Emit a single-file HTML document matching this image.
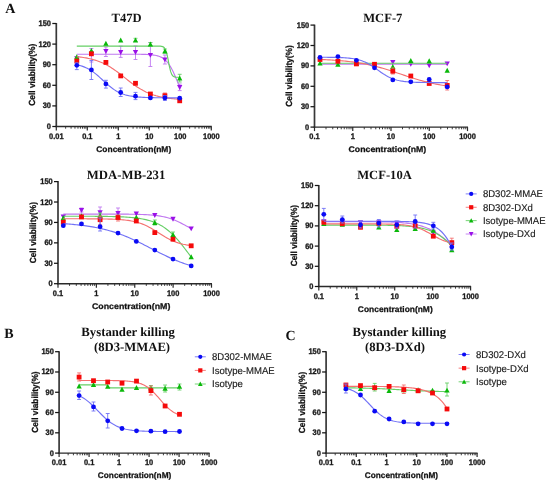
<!DOCTYPE html>
<html><head><meta charset="utf-8"><style>
html,body{margin:0;padding:0;background:#fff;}
svg{display:block;will-change:transform;text-rendering:geometricPrecision}
.tk{font-family:"Liberation Sans",sans-serif;font-weight:bold;fill:#1a1a1a;stroke:#1a1a1a;stroke-width:0.35px}
.al{font-family:"Liberation Sans",sans-serif;font-weight:bold;fill:#111;stroke:#111;stroke-width:0.25px}
.ti{font-family:"Liberation Serif",serif;font-weight:bold;fill:#111}
.lg{font-family:"Liberation Sans",sans-serif;font-size:9.8px;fill:#1a1a1a;stroke:#1a1a1a;stroke-width:0.15px}
</style></head><body>
<svg width="550" height="483" viewBox="0 0 550 483">
<text x="5.30" y="12.90" text-anchor="start" class="ti" style="font-size:14px">A</text>
<text x="126.60" y="22.40" text-anchor="middle" class="ti" style="font-size:12.6px">T47D</text>
<path d="M56.30 23.00V127.10" stroke="#383838" stroke-width="1.7" fill="none"/>
<path d="M55.60 126.50H211.80" stroke="#2a2a2a" stroke-width="1.35" fill="none"/>
<path d="M52.30 126.50H56.30" stroke="#151515" stroke-width="1.25"/>
<text transform="translate(51.00 129.00) scale(0.93 1)" text-anchor="end" class="tk" style="font-size:8.0px">0</text>
<path d="M52.30 105.90H56.30" stroke="#151515" stroke-width="1.25"/>
<text transform="translate(51.00 108.40) scale(0.93 1)" text-anchor="end" class="tk" style="font-size:8.0px">30</text>
<path d="M52.30 85.30H56.30" stroke="#151515" stroke-width="1.25"/>
<text transform="translate(51.00 87.80) scale(0.93 1)" text-anchor="end" class="tk" style="font-size:8.0px">60</text>
<path d="M52.30 64.70H56.30" stroke="#151515" stroke-width="1.25"/>
<text transform="translate(51.00 67.20) scale(0.93 1)" text-anchor="end" class="tk" style="font-size:8.0px">90</text>
<path d="M52.30 44.10H56.30" stroke="#151515" stroke-width="1.25"/>
<text transform="translate(51.00 46.60) scale(0.93 1)" text-anchor="end" class="tk" style="font-size:8.0px">120</text>
<path d="M52.30 23.50H56.30" stroke="#151515" stroke-width="1.25"/>
<text transform="translate(51.00 26.00) scale(0.93 1)" text-anchor="end" class="tk" style="font-size:8.0px">150</text>
<path d="M56.30 126.50V130.50" stroke="#2a2a2a" stroke-width="1.2"/>
<text transform="translate(56.30 138.80) scale(0.93 1)" text-anchor="middle" class="tk" style="font-size:8.0px">0.01</text>
<path d="M65.63 126.50V128.70" stroke="#2a2a2a" stroke-width="0.9"/>
<path d="M71.09 126.50V128.70" stroke="#2a2a2a" stroke-width="0.9"/>
<path d="M74.96 126.50V128.70" stroke="#2a2a2a" stroke-width="0.9"/>
<path d="M77.97 126.50V128.70" stroke="#2a2a2a" stroke-width="0.9"/>
<path d="M80.42 126.50V128.70" stroke="#2a2a2a" stroke-width="0.9"/>
<path d="M82.50 126.50V128.70" stroke="#2a2a2a" stroke-width="0.9"/>
<path d="M84.30 126.50V128.70" stroke="#2a2a2a" stroke-width="0.9"/>
<path d="M85.88 126.50V128.70" stroke="#2a2a2a" stroke-width="0.9"/>
<path d="M87.30 126.50V130.50" stroke="#2a2a2a" stroke-width="1.2"/>
<text transform="translate(87.30 138.80) scale(0.93 1)" text-anchor="middle" class="tk" style="font-size:8.0px">0.1</text>
<path d="M96.63 126.50V128.70" stroke="#2a2a2a" stroke-width="0.9"/>
<path d="M102.09 126.50V128.70" stroke="#2a2a2a" stroke-width="0.9"/>
<path d="M105.96 126.50V128.70" stroke="#2a2a2a" stroke-width="0.9"/>
<path d="M108.97 126.50V128.70" stroke="#2a2a2a" stroke-width="0.9"/>
<path d="M111.42 126.50V128.70" stroke="#2a2a2a" stroke-width="0.9"/>
<path d="M113.50 126.50V128.70" stroke="#2a2a2a" stroke-width="0.9"/>
<path d="M115.30 126.50V128.70" stroke="#2a2a2a" stroke-width="0.9"/>
<path d="M116.88 126.50V128.70" stroke="#2a2a2a" stroke-width="0.9"/>
<path d="M118.30 126.50V130.50" stroke="#2a2a2a" stroke-width="1.2"/>
<text transform="translate(118.30 138.80) scale(0.93 1)" text-anchor="middle" class="tk" style="font-size:8.0px">1</text>
<path d="M127.63 126.50V128.70" stroke="#2a2a2a" stroke-width="0.9"/>
<path d="M133.09 126.50V128.70" stroke="#2a2a2a" stroke-width="0.9"/>
<path d="M136.96 126.50V128.70" stroke="#2a2a2a" stroke-width="0.9"/>
<path d="M139.97 126.50V128.70" stroke="#2a2a2a" stroke-width="0.9"/>
<path d="M142.42 126.50V128.70" stroke="#2a2a2a" stroke-width="0.9"/>
<path d="M144.50 126.50V128.70" stroke="#2a2a2a" stroke-width="0.9"/>
<path d="M146.30 126.50V128.70" stroke="#2a2a2a" stroke-width="0.9"/>
<path d="M147.88 126.50V128.70" stroke="#2a2a2a" stroke-width="0.9"/>
<path d="M149.30 126.50V130.50" stroke="#2a2a2a" stroke-width="1.2"/>
<text transform="translate(149.30 138.80) scale(0.93 1)" text-anchor="middle" class="tk" style="font-size:8.0px">10</text>
<path d="M158.63 126.50V128.70" stroke="#2a2a2a" stroke-width="0.9"/>
<path d="M164.09 126.50V128.70" stroke="#2a2a2a" stroke-width="0.9"/>
<path d="M167.96 126.50V128.70" stroke="#2a2a2a" stroke-width="0.9"/>
<path d="M170.97 126.50V128.70" stroke="#2a2a2a" stroke-width="0.9"/>
<path d="M173.42 126.50V128.70" stroke="#2a2a2a" stroke-width="0.9"/>
<path d="M175.50 126.50V128.70" stroke="#2a2a2a" stroke-width="0.9"/>
<path d="M177.30 126.50V128.70" stroke="#2a2a2a" stroke-width="0.9"/>
<path d="M178.88 126.50V128.70" stroke="#2a2a2a" stroke-width="0.9"/>
<path d="M180.30 126.50V130.50" stroke="#2a2a2a" stroke-width="1.2"/>
<text transform="translate(180.30 138.80) scale(0.93 1)" text-anchor="middle" class="tk" style="font-size:8.0px">100</text>
<path d="M189.63 126.50V128.70" stroke="#2a2a2a" stroke-width="0.9"/>
<path d="M195.09 126.50V128.70" stroke="#2a2a2a" stroke-width="0.9"/>
<path d="M198.96 126.50V128.70" stroke="#2a2a2a" stroke-width="0.9"/>
<path d="M201.97 126.50V128.70" stroke="#2a2a2a" stroke-width="0.9"/>
<path d="M204.42 126.50V128.70" stroke="#2a2a2a" stroke-width="0.9"/>
<path d="M206.50 126.50V128.70" stroke="#2a2a2a" stroke-width="0.9"/>
<path d="M208.30 126.50V128.70" stroke="#2a2a2a" stroke-width="0.9"/>
<path d="M209.88 126.50V128.70" stroke="#2a2a2a" stroke-width="0.9"/>
<path d="M211.30 126.50V130.50" stroke="#2a2a2a" stroke-width="1.2"/>
<text transform="translate(211.30 138.80) scale(0.93 1)" text-anchor="middle" class="tk" style="font-size:8.0px">1000</text>
<text x="96.25" y="151.60" textLength="74.95" lengthAdjust="spacingAndGlyphs" class="al" style="font-size:8.2px">Concentration(nM)</text>
<g transform="translate(34.90 105.50) scale(1.07 1) rotate(-90)"><text x="-0.35" y="0" textLength="62.25" lengthAdjust="spacingAndGlyphs" class="al" style="font-size:8.3px">Cell viability(%)</text></g>
<path d="M76.80 54.22 L78.10 54.22 L79.41 54.22 L80.71 54.22 L82.01 54.22 L83.31 54.22 L84.62 54.22 L85.92 54.22 L87.22 54.22 L88.52 54.22 L89.83 54.22 L91.13 54.22 L92.43 54.22 L93.73 54.22 L95.04 54.22 L96.34 54.22 L97.64 54.22 L98.94 54.22 L100.25 54.22 L101.55 54.22 L102.85 54.22 L104.15 54.22 L105.46 54.22 L106.76 54.22 L108.06 54.22 L109.36 54.22 L110.67 54.22 L111.97 54.22 L113.27 54.22 L114.57 54.22 L115.88 54.22 L117.18 54.22 L118.48 54.22 L119.78 54.22 L121.09 54.22 L122.39 54.22 L123.69 54.22 L124.99 54.22 L126.30 54.22 L127.60 54.22 L128.90 54.23 L130.20 54.23 L131.51 54.23 L132.81 54.24 L134.11 54.24 L135.41 54.25 L136.72 54.26 L138.02 54.27 L139.32 54.29 L140.62 54.30 L141.93 54.33 L143.23 54.35 L144.53 54.39 L145.83 54.43 L147.14 54.49 L148.44 54.56 L149.74 54.64 L151.04 54.75 L152.35 54.89 L153.65 55.06 L154.95 55.27 L156.25 55.53 L157.56 55.86 L158.86 56.26 L160.16 56.76 L161.46 57.37 L162.77 58.12 L164.07 59.03 L165.37 60.13 L166.67 61.44 L167.98 62.99 L169.28 64.80 L170.58 66.88 L171.88 69.24 L173.19 71.85 L174.49 74.68 L175.79 77.68 L177.09 80.79 L178.40 83.93 L179.70 87.01" stroke="#c078f0" stroke-width="1.15" fill="none"/>
<path d="M91.40 48.50V62.00M89.45 48.50H93.35M89.45 62.00H93.35" stroke="#c078f0" stroke-width="0.9" fill="none"/>
<path d="M105.90 47.00V56.50M103.95 47.00H107.85M103.95 56.50H107.85" stroke="#c078f0" stroke-width="0.9" fill="none"/>
<path d="M120.70 46.20V57.40M118.75 46.20H122.65M118.75 57.40H122.65" stroke="#c078f0" stroke-width="0.9" fill="none"/>
<path d="M135.50 46.00V59.50M133.55 46.00H137.45M133.55 59.50H137.45" stroke="#c078f0" stroke-width="0.9" fill="none"/>
<path d="M150.40 42.50V66.50M148.45 42.50H152.35M148.45 66.50H152.35" stroke="#c078f0" stroke-width="0.9" fill="none"/>
<path d="M164.90 55.00V64.00M162.95 55.00H166.85M162.95 64.00H166.85" stroke="#c078f0" stroke-width="0.9" fill="none"/>
<path d="M179.70 84.00V90.60M177.75 84.00H181.65M177.75 90.60H181.65" stroke="#c078f0" stroke-width="0.9" fill="none"/>
<polygon points="76.80,61.26 79.44,56.29 74.16,56.29" fill="#9a10e8"/>
<polygon points="91.40,56.76 94.04,51.79 88.76,51.79" fill="#9a10e8"/>
<polygon points="105.90,53.96 108.54,48.99 103.26,48.99" fill="#9a10e8"/>
<polygon points="120.70,54.96 123.34,49.99 118.06,49.99" fill="#9a10e8"/>
<polygon points="135.50,54.96 138.14,49.99 132.86,49.99" fill="#9a10e8"/>
<polygon points="150.40,57.86 153.04,52.89 147.76,52.89" fill="#9a10e8"/>
<polygon points="164.90,62.36 167.54,57.39 162.26,57.39" fill="#9a10e8"/>
<polygon points="179.70,90.06 182.34,85.09 177.06,85.09" fill="#9a10e8"/>
<path d="M76.80 46.10 L78.10 46.10 L79.41 46.10 L80.71 46.10 L82.01 46.10 L83.31 46.10 L84.62 46.10 L85.92 46.10 L87.22 46.10 L88.52 46.10 L89.83 46.10 L91.13 46.10 L92.43 46.10 L93.73 46.10 L95.04 46.10 L96.34 46.10 L97.64 46.10 L98.94 46.10 L100.25 46.10 L101.55 46.10 L102.85 46.10 L104.15 46.10 L105.46 46.10 L106.76 46.10 L108.06 46.10 L109.36 46.10 L110.67 46.10 L111.97 46.10 L113.27 46.10 L114.57 46.10 L115.88 46.10 L117.18 46.10 L118.48 46.10 L119.78 46.10 L121.09 46.10 L122.39 46.10 L123.69 46.10 L124.99 46.10 L126.30 46.10 L127.60 46.10 L128.90 46.10 L130.20 46.10 L131.51 46.10 L132.81 46.10 L134.11 46.10 L135.41 46.10 L136.72 46.10 L138.02 46.10 L139.32 46.10 L140.62 46.10 L141.93 46.10 L143.23 46.10 L144.53 46.10 L145.83 46.10 L147.14 46.10 L148.44 46.10 L149.74 46.10 L151.04 46.10 L152.35 46.10 L153.65 46.10 L154.95 46.10 L156.25 46.11 L157.56 46.11 L158.86 46.14 L160.16 46.19 L161.46 46.33 L162.77 46.65 L164.07 47.44 L165.37 49.24 L166.67 52.90 L167.98 58.88 L169.28 65.85 L170.58 71.41 L171.88 74.63 L173.19 76.17 L174.49 76.84 L175.79 77.11 L177.09 77.22 L178.40 77.27 L179.70 77.29" stroke="#66cf66" stroke-width="1.15" fill="none"/>
<path d="M135.50 38.30V41.50M133.55 38.30H137.45M133.55 41.50H137.45" stroke="#66cf66" stroke-width="0.9" fill="none"/>
<path d="M150.40 42.50V46.00M148.45 42.50H152.35M148.45 46.00H152.35" stroke="#66cf66" stroke-width="0.9" fill="none"/>
<path d="M164.90 49.00V53.00M162.95 49.00H166.85M162.95 53.00H166.85" stroke="#66cf66" stroke-width="0.9" fill="none"/>
<path d="M179.70 74.30V82.00M177.75 74.30H181.65M177.75 82.00H181.65" stroke="#66cf66" stroke-width="0.9" fill="none"/>
<polygon points="76.80,54.24 79.44,59.21 74.16,59.21" fill="#0ab80a"/>
<polygon points="91.40,48.04 94.04,53.01 88.76,53.01" fill="#0ab80a"/>
<polygon points="105.90,40.84 108.54,45.81 103.26,45.81" fill="#0ab80a"/>
<polygon points="120.70,37.54 123.34,42.51 118.06,42.51" fill="#0ab80a"/>
<polygon points="135.50,37.54 138.14,42.51 132.86,42.51" fill="#0ab80a"/>
<polygon points="150.40,41.44 153.04,46.41 147.76,46.41" fill="#0ab80a"/>
<polygon points="164.90,48.44 167.54,53.41 162.26,53.41" fill="#0ab80a"/>
<polygon points="179.70,75.54 182.34,80.51 177.06,80.51" fill="#0ab80a"/>
<path d="M76.80 56.68 L78.10 56.82 L79.41 56.97 L80.71 57.13 L82.01 57.30 L83.31 57.49 L84.62 57.70 L85.92 57.93 L87.22 58.17 L88.52 58.44 L89.83 58.72 L91.13 59.03 L92.43 59.37 L93.73 59.73 L95.04 60.11 L96.34 60.53 L97.64 60.98 L98.94 61.46 L100.25 61.97 L101.55 62.51 L102.85 63.09 L104.15 63.71 L105.46 64.36 L106.76 65.05 L108.06 65.78 L109.36 66.54 L110.67 67.34 L111.97 68.17 L113.27 69.04 L114.57 69.93 L115.88 70.86 L117.18 71.81 L118.48 72.79 L119.78 73.78 L121.09 74.79 L122.39 75.81 L123.69 76.85 L124.99 77.88 L126.30 78.91 L127.60 79.94 L128.90 80.96 L130.20 81.97 L131.51 82.96 L132.81 83.92 L134.11 84.87 L135.41 85.78 L136.72 86.67 L138.02 87.52 L139.32 88.34 L140.62 89.12 L141.93 89.87 L143.23 90.59 L144.53 91.26 L145.83 91.90 L147.14 92.50 L148.44 93.07 L149.74 93.60 L151.04 94.10 L152.35 94.57 L153.65 95.01 L154.95 95.41 L156.25 95.79 L157.56 96.14 L158.86 96.46 L160.16 96.76 L161.46 97.04 L162.77 97.30 L164.07 97.54 L165.37 97.75 L166.67 97.96 L167.98 98.14 L169.28 98.31 L170.58 98.47 L171.88 98.61 L173.19 98.74 L174.49 98.87 L175.79 98.98 L177.09 99.08 L178.40 99.17 L179.70 99.26" stroke="#f57070" stroke-width="1.15" fill="none"/>
<path d="M164.90 93.00V98.50M162.95 93.00H166.85M162.95 98.50H166.85" stroke="#f57070" stroke-width="0.9" fill="none"/>
<rect x="74.40" y="58.60" width="4.80" height="4.80" fill="#f50a0a"/>
<rect x="89.00" y="51.40" width="4.80" height="4.80" fill="#f50a0a"/>
<rect x="103.50" y="60.00" width="4.80" height="4.80" fill="#f50a0a"/>
<rect x="118.30" y="73.50" width="4.80" height="4.80" fill="#f50a0a"/>
<rect x="133.10" y="80.90" width="4.80" height="4.80" fill="#f50a0a"/>
<rect x="148.00" y="91.60" width="4.80" height="4.80" fill="#f50a0a"/>
<rect x="162.50" y="93.30" width="4.80" height="4.80" fill="#f50a0a"/>
<rect x="177.30" y="98.40" width="4.80" height="4.80" fill="#f50a0a"/>
<path d="M76.80 64.71 L78.10 65.00 L79.41 65.33 L80.71 65.71 L82.01 66.12 L83.31 66.59 L84.62 67.10 L85.92 67.67 L87.22 68.30 L88.52 68.99 L89.83 69.74 L91.13 70.56 L92.43 71.43 L93.73 72.37 L95.04 73.37 L96.34 74.42 L97.64 75.52 L98.94 76.66 L100.25 77.83 L101.55 79.02 L102.85 80.22 L104.15 81.42 L105.46 82.62 L106.76 83.79 L108.06 84.92 L109.36 86.02 L110.67 87.07 L111.97 88.06 L113.27 89.00 L114.57 89.87 L115.88 90.68 L117.18 91.43 L118.48 92.12 L119.78 92.74 L121.09 93.31 L122.39 93.82 L123.69 94.29 L124.99 94.70 L126.30 95.07 L127.60 95.40 L128.90 95.69 L130.20 95.96 L131.51 96.19 L132.81 96.39 L134.11 96.57 L135.41 96.73 L136.72 96.87 L138.02 96.99 L139.32 97.10 L140.62 97.19 L141.93 97.28 L143.23 97.35 L144.53 97.41 L145.83 97.47 L147.14 97.52 L148.44 97.56 L149.74 97.60 L151.04 97.63 L152.35 97.66 L153.65 97.68 L154.95 97.70 L156.25 97.72 L157.56 97.74 L158.86 97.75 L160.16 97.77 L161.46 97.78 L162.77 97.79 L164.07 97.80 L165.37 97.80 L166.67 97.81 L167.98 97.82 L169.28 97.82 L170.58 97.82 L171.88 97.83 L173.19 97.83 L174.49 97.83 L175.79 97.84 L177.09 97.84 L178.40 97.84 L179.70 97.84" stroke="#7272f6" stroke-width="1.15" fill="none"/>
<path d="M76.80 62.80V69.60M74.85 62.80H78.75M74.85 69.60H78.75" stroke="#7272f6" stroke-width="0.9" fill="none"/>
<path d="M91.40 60.50V79.50M89.45 60.50H93.35M89.45 79.50H93.35" stroke="#7272f6" stroke-width="0.9" fill="none"/>
<path d="M105.90 80.30V88.10M103.95 80.30H107.85M103.95 88.10H107.85" stroke="#7272f6" stroke-width="0.9" fill="none"/>
<path d="M120.70 88.00V96.50M118.75 88.00H122.65M118.75 96.50H122.65" stroke="#7272f6" stroke-width="0.9" fill="none"/>
<path d="M135.50 92.40V99.60M133.55 92.40H137.45M133.55 99.60H137.45" stroke="#7272f6" stroke-width="0.9" fill="none"/>
<path d="M164.90 95.50V100.50M162.95 95.50H166.85M162.95 100.50H166.85" stroke="#7272f6" stroke-width="0.9" fill="none"/>
<circle cx="76.80" cy="65.30" r="2.40" fill="#0a0af5"/>
<circle cx="91.40" cy="69.90" r="2.40" fill="#0a0af5"/>
<circle cx="105.90" cy="83.90" r="2.40" fill="#0a0af5"/>
<circle cx="120.70" cy="92.50" r="2.40" fill="#0a0af5"/>
<circle cx="135.50" cy="96.20" r="2.40" fill="#0a0af5"/>
<circle cx="150.40" cy="97.90" r="2.40" fill="#0a0af5"/>
<circle cx="164.90" cy="97.90" r="2.40" fill="#0a0af5"/>
<circle cx="179.70" cy="98.20" r="2.40" fill="#0a0af5"/>
<text x="382.80" y="22.20" text-anchor="middle" class="ti" style="font-size:12.6px">MCF-7</text>
<path d="M314.50 24.60V127.70" stroke="#383838" stroke-width="1.7" fill="none"/>
<path d="M313.80 127.10H468.00" stroke="#2a2a2a" stroke-width="1.35" fill="none"/>
<path d="M310.50 127.10H314.50" stroke="#151515" stroke-width="1.25"/>
<text transform="translate(309.20 129.60) scale(0.93 1)" text-anchor="end" class="tk" style="font-size:8.0px">0</text>
<path d="M310.50 106.70H314.50" stroke="#151515" stroke-width="1.25"/>
<text transform="translate(309.20 109.20) scale(0.93 1)" text-anchor="end" class="tk" style="font-size:8.0px">30</text>
<path d="M310.50 86.30H314.50" stroke="#151515" stroke-width="1.25"/>
<text transform="translate(309.20 88.80) scale(0.93 1)" text-anchor="end" class="tk" style="font-size:8.0px">60</text>
<path d="M310.50 65.90H314.50" stroke="#151515" stroke-width="1.25"/>
<text transform="translate(309.20 68.40) scale(0.93 1)" text-anchor="end" class="tk" style="font-size:8.0px">90</text>
<path d="M310.50 45.50H314.50" stroke="#151515" stroke-width="1.25"/>
<text transform="translate(309.20 48.00) scale(0.93 1)" text-anchor="end" class="tk" style="font-size:8.0px">120</text>
<path d="M310.50 25.10H314.50" stroke="#151515" stroke-width="1.25"/>
<text transform="translate(309.20 27.60) scale(0.93 1)" text-anchor="end" class="tk" style="font-size:8.0px">150</text>
<path d="M314.50 127.10V131.10" stroke="#2a2a2a" stroke-width="1.2"/>
<text transform="translate(314.50 139.40) scale(0.93 1)" text-anchor="middle" class="tk" style="font-size:8.0px">0.1</text>
<path d="M326.01 127.10V129.30" stroke="#2a2a2a" stroke-width="0.9"/>
<path d="M332.75 127.10V129.30" stroke="#2a2a2a" stroke-width="0.9"/>
<path d="M337.53 127.10V129.30" stroke="#2a2a2a" stroke-width="0.9"/>
<path d="M341.24 127.10V129.30" stroke="#2a2a2a" stroke-width="0.9"/>
<path d="M344.26 127.10V129.30" stroke="#2a2a2a" stroke-width="0.9"/>
<path d="M346.83 127.10V129.30" stroke="#2a2a2a" stroke-width="0.9"/>
<path d="M349.04 127.10V129.30" stroke="#2a2a2a" stroke-width="0.9"/>
<path d="M351.00 127.10V129.30" stroke="#2a2a2a" stroke-width="0.9"/>
<path d="M352.75 127.10V131.10" stroke="#2a2a2a" stroke-width="1.2"/>
<text transform="translate(352.75 139.40) scale(0.93 1)" text-anchor="middle" class="tk" style="font-size:8.0px">1</text>
<path d="M364.26 127.10V129.30" stroke="#2a2a2a" stroke-width="0.9"/>
<path d="M371.00 127.10V129.30" stroke="#2a2a2a" stroke-width="0.9"/>
<path d="M375.78 127.10V129.30" stroke="#2a2a2a" stroke-width="0.9"/>
<path d="M379.49 127.10V129.30" stroke="#2a2a2a" stroke-width="0.9"/>
<path d="M382.51 127.10V129.30" stroke="#2a2a2a" stroke-width="0.9"/>
<path d="M385.08 127.10V129.30" stroke="#2a2a2a" stroke-width="0.9"/>
<path d="M387.29 127.10V129.30" stroke="#2a2a2a" stroke-width="0.9"/>
<path d="M389.25 127.10V129.30" stroke="#2a2a2a" stroke-width="0.9"/>
<path d="M391.00 127.10V131.10" stroke="#2a2a2a" stroke-width="1.2"/>
<text transform="translate(391.00 139.40) scale(0.93 1)" text-anchor="middle" class="tk" style="font-size:8.0px">10</text>
<path d="M402.51 127.10V129.30" stroke="#2a2a2a" stroke-width="0.9"/>
<path d="M409.25 127.10V129.30" stroke="#2a2a2a" stroke-width="0.9"/>
<path d="M414.03 127.10V129.30" stroke="#2a2a2a" stroke-width="0.9"/>
<path d="M417.74 127.10V129.30" stroke="#2a2a2a" stroke-width="0.9"/>
<path d="M420.76 127.10V129.30" stroke="#2a2a2a" stroke-width="0.9"/>
<path d="M423.33 127.10V129.30" stroke="#2a2a2a" stroke-width="0.9"/>
<path d="M425.54 127.10V129.30" stroke="#2a2a2a" stroke-width="0.9"/>
<path d="M427.50 127.10V129.30" stroke="#2a2a2a" stroke-width="0.9"/>
<path d="M429.25 127.10V131.10" stroke="#2a2a2a" stroke-width="1.2"/>
<text transform="translate(429.25 139.40) scale(0.93 1)" text-anchor="middle" class="tk" style="font-size:8.0px">100</text>
<path d="M440.76 127.10V129.30" stroke="#2a2a2a" stroke-width="0.9"/>
<path d="M447.50 127.10V129.30" stroke="#2a2a2a" stroke-width="0.9"/>
<path d="M452.28 127.10V129.30" stroke="#2a2a2a" stroke-width="0.9"/>
<path d="M455.99 127.10V129.30" stroke="#2a2a2a" stroke-width="0.9"/>
<path d="M459.01 127.10V129.30" stroke="#2a2a2a" stroke-width="0.9"/>
<path d="M461.58 127.10V129.30" stroke="#2a2a2a" stroke-width="0.9"/>
<path d="M463.79 127.10V129.30" stroke="#2a2a2a" stroke-width="0.9"/>
<path d="M465.75 127.10V129.30" stroke="#2a2a2a" stroke-width="0.9"/>
<path d="M467.50 127.10V131.10" stroke="#2a2a2a" stroke-width="1.2"/>
<text transform="translate(467.50 139.40) scale(0.93 1)" text-anchor="middle" class="tk" style="font-size:8.0px">1000</text>
<text x="348.55" y="152.40" textLength="77.75" lengthAdjust="spacingAndGlyphs" class="al" style="font-size:8.2px">Concentration(nM)</text>
<g transform="translate(292.40 106.40) scale(1.07 1) rotate(-90)"><text x="-0.35" y="0" textLength="61.55" lengthAdjust="spacingAndGlyphs" class="al" style="font-size:8.3px">Cell viability(%)</text></g>
<path d="M320.00 64.20 L321.61 64.20 L323.22 64.20 L324.83 64.20 L326.44 64.20 L328.05 64.20 L329.66 64.20 L331.27 64.20 L332.88 64.20 L334.49 64.20 L336.10 64.20 L337.71 64.20 L339.32 64.20 L340.93 64.20 L342.54 64.20 L344.15 64.20 L345.76 64.20 L347.37 64.20 L348.98 64.20 L350.59 64.20 L352.20 64.20 L353.81 64.20 L355.42 64.20 L357.03 64.20 L358.64 64.20 L360.25 64.20 L361.86 64.20 L363.47 64.20 L365.08 64.20 L366.69 64.20 L368.30 64.20 L369.91 64.20 L371.52 64.20 L373.13 64.20 L374.74 64.20 L376.35 64.20 L377.96 64.20 L379.57 64.20 L381.18 64.20 L382.79 64.20 L384.41 64.20 L386.02 64.20 L387.63 64.20 L389.24 64.20 L390.85 64.20 L392.46 64.20 L394.07 64.20 L395.68 64.20 L397.29 64.20 L398.90 64.20 L400.51 64.20 L402.12 64.20 L403.73 64.20 L405.34 64.20 L406.95 64.20 L408.56 64.20 L410.17 64.20 L411.78 64.20 L413.39 64.20 L415.00 64.20 L416.61 64.20 L418.22 64.20 L419.83 64.20 L421.44 64.20 L423.05 64.20 L424.66 64.20 L426.27 64.20 L427.88 64.20 L429.49 64.20 L431.10 64.20 L432.71 64.20 L434.32 64.20 L435.93 64.20 L437.54 64.20 L439.15 64.20 L440.76 64.20 L442.37 64.20 L443.98 64.20 L445.59 64.20 L447.20 64.20" stroke="#c078f0" stroke-width="1.15" fill="none"/>
<polygon points="392.80,64.96 395.44,59.99 390.16,59.99" fill="#9a10e8"/>
<polygon points="410.80,66.66 413.44,61.69 408.16,61.69" fill="#9a10e8"/>
<polygon points="429.20,68.16 431.84,63.19 426.56,63.19" fill="#9a10e8"/>
<polygon points="447.20,66.36 449.84,61.39 444.56,61.39" fill="#9a10e8"/>
<path d="M320.00 63.20 L321.61 63.20 L323.22 63.20 L324.83 63.20 L326.44 63.20 L328.05 63.20 L329.66 63.20 L331.27 63.20 L332.88 63.20 L334.49 63.20 L336.10 63.20 L337.71 63.20 L339.32 63.20 L340.93 63.20 L342.54 63.20 L344.15 63.20 L345.76 63.20 L347.37 63.20 L348.98 63.20 L350.59 63.20 L352.20 63.20 L353.81 63.20 L355.42 63.20 L357.03 63.20 L358.64 63.20 L360.25 63.20 L361.86 63.20 L363.47 63.20 L365.08 63.20 L366.69 63.20 L368.30 63.20 L369.91 63.20 L371.52 63.20 L373.13 63.20 L374.74 63.20 L376.35 63.20 L377.96 63.20 L379.57 63.20 L381.18 63.20 L382.79 63.20 L384.41 63.20 L386.02 63.20 L387.63 63.20 L389.24 63.20 L390.85 63.20 L392.46 63.20 L394.07 63.20 L395.68 63.20 L397.29 63.20 L398.90 63.20 L400.51 63.20 L402.12 63.20 L403.73 63.20 L405.34 63.20 L406.95 63.20 L408.56 63.20 L410.17 63.20 L411.78 63.20 L413.39 63.20 L415.00 63.20 L416.61 63.20 L418.22 63.20 L419.83 63.20 L421.44 63.20 L423.05 63.20 L424.66 63.20 L426.27 63.20 L427.88 63.20 L429.49 63.20 L431.10 63.20 L432.71 63.20 L434.32 63.20 L435.93 63.20 L437.54 63.20 L439.15 63.20 L440.76 63.20 L442.37 63.20 L443.98 63.20 L445.59 63.20 L447.20 63.20" stroke="#66cf66" stroke-width="1.15" fill="none"/>
<polygon points="320.00,60.44 322.64,65.41 317.36,65.41" fill="#0ab80a"/>
<polygon points="337.90,61.84 340.54,66.81 335.26,66.81" fill="#0ab80a"/>
<polygon points="356.40,61.04 359.04,66.01 353.76,66.01" fill="#0ab80a"/>
<polygon points="374.50,61.74 377.14,66.71 371.86,66.71" fill="#0ab80a"/>
<polygon points="392.80,64.04 395.44,69.01 390.16,69.01" fill="#0ab80a"/>
<polygon points="410.80,57.94 413.44,62.91 408.16,62.91" fill="#0ab80a"/>
<polygon points="429.20,58.24 431.84,63.21 426.56,63.21" fill="#0ab80a"/>
<polygon points="447.20,67.74 449.84,72.71 444.56,72.71" fill="#0ab80a"/>
<path d="M320.00 59.48 L321.61 59.54 L323.22 59.61 L324.83 59.68 L326.44 59.76 L328.05 59.84 L329.66 59.93 L331.27 60.02 L332.88 60.12 L334.49 60.22 L336.10 60.33 L337.71 60.45 L339.32 60.58 L340.93 60.71 L342.54 60.86 L344.15 61.01 L345.76 61.17 L347.37 61.34 L348.98 61.52 L350.59 61.71 L352.20 61.92 L353.81 62.13 L355.42 62.36 L357.03 62.59 L358.64 62.85 L360.25 63.11 L361.86 63.39 L363.47 63.68 L365.08 63.99 L366.69 64.31 L368.30 64.64 L369.91 65.00 L371.52 65.36 L373.13 65.74 L374.74 66.13 L376.35 66.54 L377.96 66.97 L379.57 67.40 L381.18 67.85 L382.79 68.32 L384.41 68.79 L386.02 69.28 L387.63 69.78 L389.24 70.29 L390.85 70.80 L392.46 71.33 L394.07 71.86 L395.68 72.39 L397.29 72.93 L398.90 73.48 L400.51 74.02 L402.12 74.56 L403.73 75.11 L405.34 75.65 L406.95 76.18 L408.56 76.71 L410.17 77.24 L411.78 77.76 L413.39 78.26 L415.00 78.76 L416.61 79.25 L418.22 79.73 L419.83 80.19 L421.44 80.64 L423.05 81.08 L424.66 81.51 L426.27 81.92 L427.88 82.31 L429.49 82.69 L431.10 83.06 L432.71 83.41 L434.32 83.75 L435.93 84.07 L437.54 84.38 L439.15 84.67 L440.76 84.95 L442.37 85.22 L443.98 85.47 L445.59 85.71 L447.20 85.94" stroke="#f57070" stroke-width="1.15" fill="none"/>
<path d="M392.80 68.00V74.00M390.85 68.00H394.75M390.85 74.00H394.75" stroke="#f57070" stroke-width="0.9" fill="none"/>
<path d="M447.20 80.50V90.00M445.25 80.50H449.15M445.25 90.00H449.15" stroke="#f57070" stroke-width="0.9" fill="none"/>
<rect x="317.60" y="57.10" width="4.80" height="4.80" fill="#f50a0a"/>
<rect x="335.50" y="58.90" width="4.80" height="4.80" fill="#f50a0a"/>
<rect x="354.00" y="61.50" width="4.80" height="4.80" fill="#f50a0a"/>
<rect x="372.10" y="61.90" width="4.80" height="4.80" fill="#f50a0a"/>
<rect x="390.40" y="68.80" width="4.80" height="4.80" fill="#f50a0a"/>
<rect x="408.40" y="73.60" width="4.80" height="4.80" fill="#f50a0a"/>
<rect x="426.80" y="81.10" width="4.80" height="4.80" fill="#f50a0a"/>
<rect x="444.80" y="83.00" width="4.80" height="4.80" fill="#f50a0a"/>
<path d="M320.00 57.26 L321.61 57.26 L323.22 57.27 L324.83 57.28 L326.44 57.29 L328.05 57.31 L329.66 57.33 L331.27 57.35 L332.88 57.37 L334.49 57.40 L336.10 57.44 L337.71 57.48 L339.32 57.53 L340.93 57.60 L342.54 57.67 L344.15 57.76 L345.76 57.87 L347.37 57.99 L348.98 58.14 L350.59 58.32 L352.20 58.53 L353.81 58.78 L355.42 59.07 L357.03 59.42 L358.64 59.81 L360.25 60.28 L361.86 60.81 L363.47 61.41 L365.08 62.09 L366.69 62.86 L368.30 63.71 L369.91 64.64 L371.52 65.64 L373.13 66.70 L374.74 67.82 L376.35 68.97 L377.96 70.14 L379.57 71.30 L381.18 72.44 L382.79 73.54 L384.41 74.58 L386.02 75.56 L387.63 76.46 L389.24 77.28 L390.85 78.01 L392.46 78.67 L394.07 79.24 L395.68 79.75 L397.29 80.19 L398.90 80.56 L400.51 80.89 L402.12 81.16 L403.73 81.40 L405.34 81.59 L406.95 81.76 L408.56 81.90 L410.17 82.02 L411.78 82.12 L413.39 82.20 L415.00 82.27 L416.61 82.33 L418.22 82.38 L419.83 82.42 L421.44 82.46 L423.05 82.48 L424.66 82.51 L426.27 82.53 L427.88 82.54 L429.49 82.56 L431.10 82.57 L432.71 82.58 L434.32 82.59 L435.93 82.59 L437.54 82.60 L439.15 82.60 L440.76 82.61 L442.37 82.61 L443.98 82.61 L445.59 82.61 L447.20 82.62" stroke="#7272f6" stroke-width="1.15" fill="none"/>
<circle cx="320.00" cy="57.40" r="2.40" fill="#0a0af5"/>
<circle cx="337.90" cy="56.60" r="2.40" fill="#0a0af5"/>
<circle cx="356.40" cy="60.30" r="2.40" fill="#0a0af5"/>
<circle cx="374.50" cy="67.80" r="2.40" fill="#0a0af5"/>
<circle cx="392.80" cy="79.90" r="2.40" fill="#0a0af5"/>
<circle cx="410.80" cy="81.80" r="2.40" fill="#0a0af5"/>
<circle cx="429.20" cy="79.50" r="2.40" fill="#0a0af5"/>
<circle cx="447.20" cy="86.90" r="2.40" fill="#0a0af5"/>
<text x="126.00" y="178.60" text-anchor="middle" class="ti" style="font-size:12.75px">MDA-MB-231</text>
<path d="M58.00 181.10V284.30" stroke="#383838" stroke-width="1.7" fill="none"/>
<path d="M57.30 283.70H212.00" stroke="#2a2a2a" stroke-width="1.35" fill="none"/>
<path d="M54.00 283.70H58.00" stroke="#151515" stroke-width="1.25"/>
<text transform="translate(52.70 286.20) scale(0.93 1)" text-anchor="end" class="tk" style="font-size:8.0px">0</text>
<path d="M54.00 263.28H58.00" stroke="#151515" stroke-width="1.25"/>
<text transform="translate(52.70 265.78) scale(0.93 1)" text-anchor="end" class="tk" style="font-size:8.0px">30</text>
<path d="M54.00 242.86H58.00" stroke="#151515" stroke-width="1.25"/>
<text transform="translate(52.70 245.36) scale(0.93 1)" text-anchor="end" class="tk" style="font-size:8.0px">60</text>
<path d="M54.00 222.44H58.00" stroke="#151515" stroke-width="1.25"/>
<text transform="translate(52.70 224.94) scale(0.93 1)" text-anchor="end" class="tk" style="font-size:8.0px">90</text>
<path d="M54.00 202.02H58.00" stroke="#151515" stroke-width="1.25"/>
<text transform="translate(52.70 204.52) scale(0.93 1)" text-anchor="end" class="tk" style="font-size:8.0px">120</text>
<path d="M54.00 181.60H58.00" stroke="#151515" stroke-width="1.25"/>
<text transform="translate(52.70 184.10) scale(0.93 1)" text-anchor="end" class="tk" style="font-size:8.0px">150</text>
<path d="M58.00 283.70V287.70" stroke="#2a2a2a" stroke-width="1.2"/>
<text transform="translate(58.00 296.00) scale(0.93 1)" text-anchor="middle" class="tk" style="font-size:8.0px">0.1</text>
<path d="M69.55 283.70V285.90" stroke="#2a2a2a" stroke-width="0.9"/>
<path d="M76.31 283.70V285.90" stroke="#2a2a2a" stroke-width="0.9"/>
<path d="M81.10 283.70V285.90" stroke="#2a2a2a" stroke-width="0.9"/>
<path d="M84.82 283.70V285.90" stroke="#2a2a2a" stroke-width="0.9"/>
<path d="M87.86 283.70V285.90" stroke="#2a2a2a" stroke-width="0.9"/>
<path d="M90.43 283.70V285.90" stroke="#2a2a2a" stroke-width="0.9"/>
<path d="M92.66 283.70V285.90" stroke="#2a2a2a" stroke-width="0.9"/>
<path d="M94.62 283.70V285.90" stroke="#2a2a2a" stroke-width="0.9"/>
<path d="M96.38 283.70V287.70" stroke="#2a2a2a" stroke-width="1.2"/>
<text transform="translate(96.38 296.00) scale(0.93 1)" text-anchor="middle" class="tk" style="font-size:8.0px">1</text>
<path d="M107.93 283.70V285.90" stroke="#2a2a2a" stroke-width="0.9"/>
<path d="M114.68 283.70V285.90" stroke="#2a2a2a" stroke-width="0.9"/>
<path d="M119.48 283.70V285.90" stroke="#2a2a2a" stroke-width="0.9"/>
<path d="M123.20 283.70V285.90" stroke="#2a2a2a" stroke-width="0.9"/>
<path d="M126.24 283.70V285.90" stroke="#2a2a2a" stroke-width="0.9"/>
<path d="M128.81 283.70V285.90" stroke="#2a2a2a" stroke-width="0.9"/>
<path d="M131.03 283.70V285.90" stroke="#2a2a2a" stroke-width="0.9"/>
<path d="M132.99 283.70V285.90" stroke="#2a2a2a" stroke-width="0.9"/>
<path d="M134.75 283.70V287.70" stroke="#2a2a2a" stroke-width="1.2"/>
<text transform="translate(134.75 296.00) scale(0.93 1)" text-anchor="middle" class="tk" style="font-size:8.0px">10</text>
<path d="M146.30 283.70V285.90" stroke="#2a2a2a" stroke-width="0.9"/>
<path d="M153.06 283.70V285.90" stroke="#2a2a2a" stroke-width="0.9"/>
<path d="M157.85 283.70V285.90" stroke="#2a2a2a" stroke-width="0.9"/>
<path d="M161.57 283.70V285.90" stroke="#2a2a2a" stroke-width="0.9"/>
<path d="M164.61 283.70V285.90" stroke="#2a2a2a" stroke-width="0.9"/>
<path d="M167.18 283.70V285.90" stroke="#2a2a2a" stroke-width="0.9"/>
<path d="M169.41 283.70V285.90" stroke="#2a2a2a" stroke-width="0.9"/>
<path d="M171.37 283.70V285.90" stroke="#2a2a2a" stroke-width="0.9"/>
<path d="M173.12 283.70V287.70" stroke="#2a2a2a" stroke-width="1.2"/>
<text transform="translate(173.12 296.00) scale(0.93 1)" text-anchor="middle" class="tk" style="font-size:8.0px">100</text>
<path d="M184.68 283.70V285.90" stroke="#2a2a2a" stroke-width="0.9"/>
<path d="M191.43 283.70V285.90" stroke="#2a2a2a" stroke-width="0.9"/>
<path d="M196.23 283.70V285.90" stroke="#2a2a2a" stroke-width="0.9"/>
<path d="M199.95 283.70V285.90" stroke="#2a2a2a" stroke-width="0.9"/>
<path d="M202.99 283.70V285.90" stroke="#2a2a2a" stroke-width="0.9"/>
<path d="M205.56 283.70V285.90" stroke="#2a2a2a" stroke-width="0.9"/>
<path d="M207.78 283.70V285.90" stroke="#2a2a2a" stroke-width="0.9"/>
<path d="M209.74 283.70V285.90" stroke="#2a2a2a" stroke-width="0.9"/>
<path d="M211.50 283.70V287.70" stroke="#2a2a2a" stroke-width="1.2"/>
<text transform="translate(211.50 296.00) scale(0.93 1)" text-anchor="middle" class="tk" style="font-size:8.0px">1000</text>
<text x="91.95" y="309.40" textLength="78.45" lengthAdjust="spacingAndGlyphs" class="al" style="font-size:8.2px">Concentration(nM)</text>
<g transform="translate(35.70 263.00) scale(1.07 1) rotate(-90)"><text x="-0.35" y="0" textLength="61.25" lengthAdjust="spacingAndGlyphs" class="al" style="font-size:8.3px">Cell viability(%)</text></g>
<path d="M63.30 214.07 L64.92 214.07 L66.54 214.07 L68.16 214.07 L69.78 214.07 L71.39 214.07 L73.01 214.07 L74.63 214.07 L76.25 214.07 L77.87 214.07 L79.49 214.07 L81.11 214.07 L82.73 214.07 L84.35 214.07 L85.97 214.07 L87.58 214.07 L89.20 214.07 L90.82 214.07 L92.44 214.07 L94.06 214.08 L95.68 214.08 L97.30 214.08 L98.92 214.08 L100.54 214.08 L102.16 214.08 L103.77 214.08 L105.39 214.09 L107.01 214.09 L108.63 214.09 L110.25 214.09 L111.87 214.10 L113.49 214.10 L115.11 214.11 L116.73 214.11 L118.35 214.12 L119.96 214.13 L121.58 214.14 L123.20 214.15 L124.82 214.16 L126.44 214.18 L128.06 214.19 L129.68 214.21 L131.30 214.23 L132.92 214.26 L134.54 214.29 L136.15 214.32 L137.77 214.36 L139.39 214.41 L141.01 214.46 L142.63 214.52 L144.25 214.59 L145.87 214.67 L147.49 214.76 L149.11 214.86 L150.73 214.98 L152.34 215.12 L153.96 215.27 L155.58 215.45 L157.20 215.65 L158.82 215.89 L160.44 216.15 L162.06 216.44 L163.68 216.77 L165.30 217.14 L166.92 217.55 L168.53 218.01 L170.15 218.52 L171.77 219.07 L173.39 219.68 L175.01 220.33 L176.63 221.03 L178.25 221.77 L179.87 222.56 L181.49 223.38 L183.11 224.23 L184.72 225.10 L186.34 225.98 L187.96 226.86 L189.58 227.74 L191.20 228.60" stroke="#c078f0" stroke-width="1.15" fill="none"/>
<path d="M81.50 208.00V212.00M79.55 208.00H83.45M79.55 212.00H83.45" stroke="#c078f0" stroke-width="0.9" fill="none"/>
<path d="M100.10 207.00V216.00M98.15 207.00H102.05M98.15 216.00H102.05" stroke="#c078f0" stroke-width="0.9" fill="none"/>
<path d="M118.00 208.00V214.00M116.05 208.00H119.95M116.05 214.00H119.95" stroke="#c078f0" stroke-width="0.9" fill="none"/>
<polygon points="63.30,219.56 65.94,214.59 60.66,214.59" fill="#9a10e8"/>
<polygon points="81.50,213.06 84.14,208.09 78.86,208.09" fill="#9a10e8"/>
<polygon points="100.10,215.26 102.74,210.29 97.46,210.29" fill="#9a10e8"/>
<polygon points="118.00,215.96 120.64,210.99 115.36,210.99" fill="#9a10e8"/>
<polygon points="136.30,216.46 138.94,211.49 133.66,211.49" fill="#9a10e8"/>
<polygon points="154.80,217.96 157.44,212.99 152.16,212.99" fill="#9a10e8"/>
<polygon points="173.00,221.76 175.64,216.79 170.36,216.79" fill="#9a10e8"/>
<polygon points="191.20,231.36 193.84,226.39 188.56,226.39" fill="#9a10e8"/>
<path d="M63.30 216.22 L64.92 216.22 L66.54 216.22 L68.16 216.22 L69.78 216.22 L71.39 216.22 L73.01 216.23 L74.63 216.23 L76.25 216.23 L77.87 216.23 L79.49 216.24 L81.11 216.24 L82.73 216.25 L84.35 216.25 L85.97 216.26 L87.58 216.26 L89.20 216.27 L90.82 216.28 L92.44 216.29 L94.06 216.30 L95.68 216.31 L97.30 216.32 L98.92 216.34 L100.54 216.35 L102.16 216.37 L103.77 216.39 L105.39 216.41 L107.01 216.44 L108.63 216.47 L110.25 216.50 L111.87 216.54 L113.49 216.58 L115.11 216.62 L116.73 216.67 L118.35 216.73 L119.96 216.79 L121.58 216.86 L123.20 216.94 L124.82 217.02 L126.44 217.12 L128.06 217.23 L129.68 217.35 L131.30 217.49 L132.92 217.64 L134.54 217.81 L136.15 218.00 L137.77 218.21 L139.39 218.44 L141.01 218.71 L142.63 219.00 L144.25 219.32 L145.87 219.68 L147.49 220.08 L149.11 220.52 L150.73 221.01 L152.34 221.55 L153.96 222.14 L155.58 222.80 L157.20 223.52 L158.82 224.31 L160.44 225.17 L162.06 226.11 L163.68 227.13 L165.30 228.25 L166.92 229.45 L168.53 230.74 L170.15 232.13 L171.77 233.61 L173.39 235.18 L175.01 236.85 L176.63 238.61 L178.25 240.45 L179.87 242.37 L181.49 244.35 L183.11 246.40 L184.72 248.49 L186.34 250.62 L187.96 252.77 L189.58 254.93 L191.20 257.09" stroke="#66cf66" stroke-width="1.15" fill="none"/>
<path d="M100.10 213.00V220.00M98.15 213.00H102.05M98.15 220.00H102.05" stroke="#66cf66" stroke-width="0.9" fill="none"/>
<path d="M154.80 220.00V225.00M152.85 220.00H156.75M152.85 225.00H156.75" stroke="#66cf66" stroke-width="0.9" fill="none"/>
<path d="M173.00 232.00V237.00M171.05 232.00H174.95M171.05 237.00H174.95" stroke="#66cf66" stroke-width="0.9" fill="none"/>
<polygon points="63.30,215.34 65.94,220.31 60.66,220.31" fill="#0ab80a"/>
<polygon points="81.50,213.24 84.14,218.21 78.86,218.21" fill="#0ab80a"/>
<polygon points="100.10,213.24 102.74,218.21 97.46,218.21" fill="#0ab80a"/>
<polygon points="118.00,213.74 120.64,218.71 115.36,218.71" fill="#0ab80a"/>
<polygon points="136.30,214.64 138.94,219.61 133.66,219.61" fill="#0ab80a"/>
<polygon points="154.80,220.04 157.44,225.01 152.16,225.01" fill="#0ab80a"/>
<polygon points="173.00,231.94 175.64,236.91 170.36,236.91" fill="#0ab80a"/>
<polygon points="191.20,254.34 193.84,259.31 188.56,259.31" fill="#0ab80a"/>
<path d="M63.30 218.76 L64.92 218.76 L66.54 218.76 L68.16 218.76 L69.78 218.77 L71.39 218.77 L73.01 218.77 L74.63 218.77 L76.25 218.77 L77.87 218.78 L79.49 218.78 L81.11 218.78 L82.73 218.79 L84.35 218.79 L85.97 218.80 L87.58 218.80 L89.20 218.81 L90.82 218.82 L92.44 218.83 L94.06 218.84 L95.68 218.85 L97.30 218.86 L98.92 218.88 L100.54 218.90 L102.16 218.92 L103.77 218.95 L105.39 218.98 L107.01 219.02 L108.63 219.06 L110.25 219.10 L111.87 219.16 L113.49 219.22 L115.11 219.29 L116.73 219.38 L118.35 219.47 L119.96 219.58 L121.58 219.71 L123.20 219.85 L124.82 220.02 L126.44 220.21 L128.06 220.43 L129.68 220.67 L131.30 220.95 L132.92 221.27 L134.54 221.63 L136.15 222.03 L137.77 222.48 L139.39 222.98 L141.01 223.53 L142.63 224.14 L144.25 224.81 L145.87 225.54 L147.49 226.32 L149.11 227.16 L150.73 228.06 L152.34 228.99 L153.96 229.97 L155.58 230.97 L157.20 232.00 L158.82 233.03 L160.44 234.07 L162.06 235.09 L163.68 236.08 L165.30 237.05 L166.92 237.97 L168.53 238.84 L170.15 239.66 L171.77 240.43 L173.39 241.14 L175.01 241.78 L176.63 242.38 L178.25 242.91 L179.87 243.39 L181.49 243.83 L183.11 244.21 L184.72 244.55 L186.34 244.86 L187.96 245.12 L189.58 245.36 L191.20 245.57" stroke="#f57070" stroke-width="1.15" fill="none"/>
<path d="M100.10 216.00V225.00M98.15 216.00H102.05M98.15 225.00H102.05" stroke="#f57070" stroke-width="0.9" fill="none"/>
<path d="M118.00 215.00V221.00M116.05 215.00H119.95M116.05 221.00H119.95" stroke="#f57070" stroke-width="0.9" fill="none"/>
<rect x="60.90" y="219.90" width="4.80" height="4.80" fill="#f50a0a"/>
<rect x="79.10" y="214.50" width="4.80" height="4.80" fill="#f50a0a"/>
<rect x="97.70" y="217.30" width="4.80" height="4.80" fill="#f50a0a"/>
<rect x="115.60" y="215.10" width="4.80" height="4.80" fill="#f50a0a"/>
<rect x="133.90" y="218.60" width="4.80" height="4.80" fill="#f50a0a"/>
<rect x="152.40" y="230.20" width="4.80" height="4.80" fill="#f50a0a"/>
<rect x="170.60" y="236.80" width="4.80" height="4.80" fill="#f50a0a"/>
<rect x="188.80" y="243.40" width="4.80" height="4.80" fill="#f50a0a"/>
<path d="M63.30 223.70 L64.92 223.80 L66.54 223.91 L68.16 224.03 L69.78 224.16 L71.39 224.29 L73.01 224.43 L74.63 224.57 L76.25 224.73 L77.87 224.90 L79.49 225.07 L81.11 225.26 L82.73 225.45 L84.35 225.66 L85.97 225.88 L87.58 226.11 L89.20 226.36 L90.82 226.61 L92.44 226.88 L94.06 227.17 L95.68 227.47 L97.30 227.78 L98.92 228.12 L100.54 228.46 L102.16 228.83 L103.77 229.21 L105.39 229.61 L107.01 230.03 L108.63 230.47 L110.25 230.93 L111.87 231.40 L113.49 231.90 L115.11 232.42 L116.73 232.95 L118.35 233.51 L119.96 234.09 L121.58 234.69 L123.20 235.31 L124.82 235.94 L126.44 236.60 L128.06 237.28 L129.68 237.97 L131.30 238.69 L132.92 239.42 L134.54 240.16 L136.15 240.92 L137.77 241.70 L139.39 242.48 L141.01 243.28 L142.63 244.09 L144.25 244.91 L145.87 245.73 L147.49 246.56 L149.11 247.40 L150.73 248.23 L152.34 249.07 L153.96 249.91 L155.58 250.74 L157.20 251.57 L158.82 252.39 L160.44 253.20 L162.06 254.01 L163.68 254.81 L165.30 255.59 L166.92 256.36 L168.53 257.12 L170.15 257.86 L171.77 258.58 L173.39 259.29 L175.01 259.98 L176.63 260.65 L178.25 261.30 L179.87 261.93 L181.49 262.54 L183.11 263.14 L184.72 263.71 L186.34 264.26 L187.96 264.79 L189.58 265.30 L191.20 265.79" stroke="#7272f6" stroke-width="1.15" fill="none"/>
<path d="M100.10 218.00V231.00M98.15 218.00H102.05M98.15 231.00H102.05" stroke="#7272f6" stroke-width="0.9" fill="none"/>
<circle cx="63.30" cy="225.70" r="2.40" fill="#0a0af5"/>
<circle cx="81.50" cy="223.90" r="2.40" fill="#0a0af5"/>
<circle cx="100.10" cy="226.70" r="2.40" fill="#0a0af5"/>
<circle cx="118.00" cy="233.10" r="2.40" fill="#0a0af5"/>
<circle cx="136.30" cy="241.40" r="2.40" fill="#0a0af5"/>
<circle cx="154.80" cy="250.10" r="2.40" fill="#0a0af5"/>
<circle cx="173.00" cy="259.10" r="2.40" fill="#0a0af5"/>
<circle cx="191.20" cy="265.90" r="2.40" fill="#0a0af5"/>
<text x="384.50" y="178.60" text-anchor="middle" class="ti" style="font-size:12.6px">MCF-10A</text>
<path d="M318.80 185.00V287.10" stroke="#383838" stroke-width="1.7" fill="none"/>
<path d="M318.10 286.50H471.10" stroke="#2a2a2a" stroke-width="1.35" fill="none"/>
<path d="M314.80 286.50H318.80" stroke="#151515" stroke-width="1.25"/>
<text transform="translate(313.50 289.00) scale(0.93 1)" text-anchor="end" class="tk" style="font-size:8.0px">0</text>
<path d="M314.80 266.30H318.80" stroke="#151515" stroke-width="1.25"/>
<text transform="translate(313.50 268.80) scale(0.93 1)" text-anchor="end" class="tk" style="font-size:8.0px">30</text>
<path d="M314.80 246.10H318.80" stroke="#151515" stroke-width="1.25"/>
<text transform="translate(313.50 248.60) scale(0.93 1)" text-anchor="end" class="tk" style="font-size:8.0px">60</text>
<path d="M314.80 225.90H318.80" stroke="#151515" stroke-width="1.25"/>
<text transform="translate(313.50 228.40) scale(0.93 1)" text-anchor="end" class="tk" style="font-size:8.0px">90</text>
<path d="M314.80 205.70H318.80" stroke="#151515" stroke-width="1.25"/>
<text transform="translate(313.50 208.20) scale(0.93 1)" text-anchor="end" class="tk" style="font-size:8.0px">120</text>
<path d="M314.80 185.50H318.80" stroke="#151515" stroke-width="1.25"/>
<text transform="translate(313.50 188.00) scale(0.93 1)" text-anchor="end" class="tk" style="font-size:8.0px">150</text>
<path d="M318.80 286.50V290.50" stroke="#2a2a2a" stroke-width="1.2"/>
<text transform="translate(318.80 298.80) scale(0.93 1)" text-anchor="middle" class="tk" style="font-size:8.0px">0.1</text>
<path d="M330.22 286.50V288.70" stroke="#2a2a2a" stroke-width="0.9"/>
<path d="M336.91 286.50V288.70" stroke="#2a2a2a" stroke-width="0.9"/>
<path d="M341.65 286.50V288.70" stroke="#2a2a2a" stroke-width="0.9"/>
<path d="M345.33 286.50V288.70" stroke="#2a2a2a" stroke-width="0.9"/>
<path d="M348.33 286.50V288.70" stroke="#2a2a2a" stroke-width="0.9"/>
<path d="M350.87 286.50V288.70" stroke="#2a2a2a" stroke-width="0.9"/>
<path d="M353.07 286.50V288.70" stroke="#2a2a2a" stroke-width="0.9"/>
<path d="M355.01 286.50V288.70" stroke="#2a2a2a" stroke-width="0.9"/>
<path d="M356.75 286.50V290.50" stroke="#2a2a2a" stroke-width="1.2"/>
<text transform="translate(356.75 298.80) scale(0.93 1)" text-anchor="middle" class="tk" style="font-size:8.0px">1</text>
<path d="M368.17 286.50V288.70" stroke="#2a2a2a" stroke-width="0.9"/>
<path d="M374.86 286.50V288.70" stroke="#2a2a2a" stroke-width="0.9"/>
<path d="M379.60 286.50V288.70" stroke="#2a2a2a" stroke-width="0.9"/>
<path d="M383.28 286.50V288.70" stroke="#2a2a2a" stroke-width="0.9"/>
<path d="M386.28 286.50V288.70" stroke="#2a2a2a" stroke-width="0.9"/>
<path d="M388.82 286.50V288.70" stroke="#2a2a2a" stroke-width="0.9"/>
<path d="M391.02 286.50V288.70" stroke="#2a2a2a" stroke-width="0.9"/>
<path d="M392.96 286.50V288.70" stroke="#2a2a2a" stroke-width="0.9"/>
<path d="M394.70 286.50V290.50" stroke="#2a2a2a" stroke-width="1.2"/>
<text transform="translate(394.70 298.80) scale(0.93 1)" text-anchor="middle" class="tk" style="font-size:8.0px">10</text>
<path d="M406.12 286.50V288.70" stroke="#2a2a2a" stroke-width="0.9"/>
<path d="M412.81 286.50V288.70" stroke="#2a2a2a" stroke-width="0.9"/>
<path d="M417.55 286.50V288.70" stroke="#2a2a2a" stroke-width="0.9"/>
<path d="M421.23 286.50V288.70" stroke="#2a2a2a" stroke-width="0.9"/>
<path d="M424.23 286.50V288.70" stroke="#2a2a2a" stroke-width="0.9"/>
<path d="M426.77 286.50V288.70" stroke="#2a2a2a" stroke-width="0.9"/>
<path d="M428.97 286.50V288.70" stroke="#2a2a2a" stroke-width="0.9"/>
<path d="M430.91 286.50V288.70" stroke="#2a2a2a" stroke-width="0.9"/>
<path d="M432.65 286.50V290.50" stroke="#2a2a2a" stroke-width="1.2"/>
<text transform="translate(432.65 298.80) scale(0.93 1)" text-anchor="middle" class="tk" style="font-size:8.0px">100</text>
<path d="M444.07 286.50V288.70" stroke="#2a2a2a" stroke-width="0.9"/>
<path d="M450.76 286.50V288.70" stroke="#2a2a2a" stroke-width="0.9"/>
<path d="M455.50 286.50V288.70" stroke="#2a2a2a" stroke-width="0.9"/>
<path d="M459.18 286.50V288.70" stroke="#2a2a2a" stroke-width="0.9"/>
<path d="M462.18 286.50V288.70" stroke="#2a2a2a" stroke-width="0.9"/>
<path d="M464.72 286.50V288.70" stroke="#2a2a2a" stroke-width="0.9"/>
<path d="M466.92 286.50V288.70" stroke="#2a2a2a" stroke-width="0.9"/>
<path d="M468.86 286.50V288.70" stroke="#2a2a2a" stroke-width="0.9"/>
<path d="M470.60 286.50V290.50" stroke="#2a2a2a" stroke-width="1.2"/>
<text transform="translate(470.60 298.80) scale(0.93 1)" text-anchor="middle" class="tk" style="font-size:8.0px">1000</text>
<text x="357.85" y="311.80" textLength="74.85" lengthAdjust="spacingAndGlyphs" class="al" style="font-size:8.2px">Concentration(nM)</text>
<g transform="translate(297.00 266.00) scale(1.07 1) rotate(-90)"><text x="-0.35" y="0" textLength="61.45" lengthAdjust="spacingAndGlyphs" class="al" style="font-size:8.3px">Cell viability(%)</text></g>
<path d="M323.80 221.58 L325.42 221.58 L327.04 221.58 L328.66 221.58 L330.28 221.58 L331.90 221.58 L333.52 221.58 L335.14 221.58 L336.76 221.58 L338.38 221.58 L340.00 221.58 L341.62 221.59 L343.24 221.59 L344.86 221.59 L346.48 221.59 L348.10 221.59 L349.72 221.60 L351.34 221.60 L352.96 221.60 L354.58 221.61 L356.21 221.61 L357.83 221.62 L359.45 221.62 L361.07 221.63 L362.69 221.63 L364.31 221.64 L365.93 221.65 L367.55 221.66 L369.17 221.67 L370.79 221.69 L372.41 221.70 L374.03 221.72 L375.65 221.74 L377.27 221.76 L378.89 221.78 L380.51 221.81 L382.13 221.84 L383.75 221.87 L385.37 221.91 L386.99 221.95 L388.61 222.00 L390.23 222.05 L391.85 222.11 L393.47 222.18 L395.09 222.26 L396.71 222.34 L398.33 222.44 L399.95 222.55 L401.57 222.67 L403.19 222.81 L404.81 222.96 L406.43 223.13 L408.05 223.32 L409.67 223.54 L411.29 223.78 L412.91 224.04 L414.53 224.34 L416.15 224.67 L417.77 225.03 L419.39 225.44 L421.02 225.89 L422.64 226.38 L424.26 226.92 L425.88 227.52 L427.50 228.17 L429.12 228.88 L430.74 229.65 L432.36 230.49 L433.98 231.39 L435.60 232.36 L437.22 233.39 L438.84 234.49 L440.46 235.64 L442.08 236.86 L443.70 238.12 L445.32 239.44 L446.94 240.79 L448.56 242.18 L450.18 243.58 L451.80 245.00" stroke="#c078f0" stroke-width="1.15" fill="none"/>
<polygon points="323.80,224.26 326.44,219.29 321.16,219.29" fill="#9a10e8"/>
<polygon points="342.30,224.56 344.94,219.59 339.66,219.59" fill="#9a10e8"/>
<polygon points="360.50,225.26 363.14,220.29 357.86,220.29" fill="#9a10e8"/>
<polygon points="378.80,225.26 381.44,220.29 376.16,220.29" fill="#9a10e8"/>
<polygon points="396.80,225.76 399.44,220.79 394.16,220.79" fill="#9a10e8"/>
<polygon points="415.20,226.76 417.84,221.79 412.56,221.79" fill="#9a10e8"/>
<polygon points="433.30,235.56 435.94,230.59 430.66,230.59" fill="#9a10e8"/>
<polygon points="451.80,247.76 454.44,242.79 449.16,242.79" fill="#9a10e8"/>
<path d="M323.80 225.07 L325.42 225.07 L327.04 225.08 L328.66 225.08 L330.28 225.08 L331.90 225.08 L333.52 225.08 L335.14 225.08 L336.76 225.08 L338.38 225.08 L340.00 225.08 L341.62 225.08 L343.24 225.08 L344.86 225.08 L346.48 225.08 L348.10 225.08 L349.72 225.09 L351.34 225.09 L352.96 225.09 L354.58 225.09 L356.21 225.09 L357.83 225.10 L359.45 225.10 L361.07 225.10 L362.69 225.11 L364.31 225.11 L365.93 225.12 L367.55 225.12 L369.17 225.13 L370.79 225.14 L372.41 225.15 L374.03 225.16 L375.65 225.17 L377.27 225.18 L378.89 225.19 L380.51 225.21 L382.13 225.23 L383.75 225.25 L385.37 225.27 L386.99 225.30 L388.61 225.33 L390.23 225.36 L391.85 225.40 L393.47 225.44 L395.09 225.49 L396.71 225.54 L398.33 225.61 L399.95 225.68 L401.57 225.76 L403.19 225.84 L404.81 225.95 L406.43 226.06 L408.05 226.19 L409.67 226.33 L411.29 226.49 L412.91 226.68 L414.53 226.88 L416.15 227.11 L417.77 227.37 L419.39 227.66 L421.02 227.99 L422.64 228.35 L424.26 228.76 L425.88 229.21 L427.50 229.71 L429.12 230.27 L430.74 230.89 L432.36 231.58 L433.98 232.33 L435.60 233.16 L437.22 234.06 L438.84 235.05 L440.46 236.12 L442.08 237.28 L443.70 238.53 L445.32 239.86 L446.94 241.28 L448.56 242.78 L450.18 244.35 L451.80 246.00" stroke="#66cf66" stroke-width="1.15" fill="none"/>
<polygon points="323.80,221.04 326.44,226.01 321.16,226.01" fill="#0ab80a"/>
<polygon points="342.30,221.74 344.94,226.71 339.66,226.71" fill="#0ab80a"/>
<polygon points="360.50,223.74 363.14,228.71 357.86,228.71" fill="#0ab80a"/>
<polygon points="378.80,224.54 381.44,229.51 376.16,229.51" fill="#0ab80a"/>
<polygon points="396.80,227.14 399.44,232.11 394.16,232.11" fill="#0ab80a"/>
<polygon points="415.20,225.94 417.84,230.91 412.56,230.91" fill="#0ab80a"/>
<polygon points="433.30,227.84 435.94,232.81 430.66,232.81" fill="#0ab80a"/>
<polygon points="451.80,247.24 454.44,252.21 449.16,252.21" fill="#0ab80a"/>
<path d="M323.80 223.88 L325.42 223.88 L327.04 223.88 L328.66 223.88 L330.28 223.88 L331.90 223.88 L333.52 223.88 L335.14 223.88 L336.76 223.88 L338.38 223.88 L340.00 223.88 L341.62 223.88 L343.24 223.88 L344.86 223.88 L346.48 223.88 L348.10 223.88 L349.72 223.88 L351.34 223.88 L352.96 223.88 L354.58 223.88 L356.21 223.88 L357.83 223.88 L359.45 223.89 L361.07 223.89 L362.69 223.89 L364.31 223.89 L365.93 223.90 L367.55 223.90 L369.17 223.90 L370.79 223.91 L372.41 223.91 L374.03 223.92 L375.65 223.93 L377.27 223.94 L378.89 223.95 L380.51 223.97 L382.13 223.99 L383.75 224.01 L385.37 224.03 L386.99 224.06 L388.61 224.09 L390.23 224.13 L391.85 224.18 L393.47 224.24 L395.09 224.31 L396.71 224.39 L398.33 224.48 L399.95 224.59 L401.57 224.72 L403.19 224.87 L404.81 225.04 L406.43 225.25 L408.05 225.49 L409.67 225.76 L411.29 226.08 L412.91 226.44 L414.53 226.86 L416.15 227.33 L417.77 227.85 L419.39 228.44 L421.02 229.09 L422.64 229.80 L424.26 230.56 L425.88 231.38 L427.50 232.23 L429.12 233.12 L430.74 234.03 L432.36 234.95 L433.98 235.87 L435.60 236.76 L437.22 237.62 L438.84 238.45 L440.46 239.22 L442.08 239.94 L443.70 240.60 L445.32 241.19 L446.94 241.73 L448.56 242.21 L450.18 242.63 L451.80 243.00" stroke="#f57070" stroke-width="1.15" fill="none"/>
<path d="M451.80 238.20V247.00M449.85 238.20H453.75M449.85 247.00H453.75" stroke="#f57070" stroke-width="0.9" fill="none"/>
<rect x="321.40" y="219.90" width="4.80" height="4.80" fill="#f50a0a"/>
<rect x="339.90" y="221.30" width="4.80" height="4.80" fill="#f50a0a"/>
<rect x="358.10" y="224.90" width="4.80" height="4.80" fill="#f50a0a"/>
<rect x="376.40" y="221.00" width="4.80" height="4.80" fill="#f50a0a"/>
<rect x="394.40" y="223.90" width="4.80" height="4.80" fill="#f50a0a"/>
<rect x="412.80" y="223.60" width="4.80" height="4.80" fill="#f50a0a"/>
<rect x="430.90" y="233.80" width="4.80" height="4.80" fill="#f50a0a"/>
<rect x="449.40" y="240.20" width="4.80" height="4.80" fill="#f50a0a"/>
<path d="M323.80 221.28 L325.42 221.28 L327.04 221.28 L328.66 221.28 L330.28 221.28 L331.90 221.28 L333.52 221.28 L335.14 221.28 L336.76 221.28 L338.38 221.28 L340.00 221.28 L341.62 221.28 L343.24 221.28 L344.86 221.28 L346.48 221.28 L348.10 221.28 L349.72 221.28 L351.34 221.28 L352.96 221.28 L354.58 221.28 L356.21 221.28 L357.83 221.28 L359.45 221.28 L361.07 221.28 L362.69 221.28 L364.31 221.28 L365.93 221.28 L367.55 221.28 L369.17 221.28 L370.79 221.28 L372.41 221.29 L374.03 221.29 L375.65 221.29 L377.27 221.29 L378.89 221.29 L380.51 221.30 L382.13 221.30 L383.75 221.31 L385.37 221.31 L386.99 221.32 L388.61 221.33 L390.23 221.33 L391.85 221.35 L393.47 221.36 L395.09 221.37 L396.71 221.39 L398.33 221.41 L399.95 221.44 L401.57 221.46 L403.19 221.50 L404.81 221.54 L406.43 221.59 L408.05 221.64 L409.67 221.71 L411.29 221.79 L412.91 221.88 L414.53 221.99 L416.15 222.11 L417.77 222.26 L419.39 222.44 L421.02 222.65 L422.64 222.90 L424.26 223.18 L425.88 223.52 L427.50 223.92 L429.12 224.39 L430.74 224.94 L432.36 225.58 L433.98 226.32 L435.60 227.19 L437.22 228.20 L438.84 229.37 L440.46 230.72 L442.08 232.27 L443.70 234.04 L445.32 236.07 L446.94 238.36 L448.56 240.93 L450.18 243.81 L451.80 247.00" stroke="#7272f6" stroke-width="1.15" fill="none"/>
<path d="M323.80 208.40V220.00M321.85 208.40H325.75M321.85 220.00H325.75" stroke="#7272f6" stroke-width="0.9" fill="none"/>
<path d="M342.30 216.00V223.00M340.35 216.00H344.25M340.35 223.00H344.25" stroke="#7272f6" stroke-width="0.9" fill="none"/>
<path d="M360.50 221.00V228.00M358.55 221.00H362.45M358.55 228.00H362.45" stroke="#7272f6" stroke-width="0.9" fill="none"/>
<path d="M378.80 219.50V227.00M376.85 219.50H380.75M376.85 227.00H380.75" stroke="#7272f6" stroke-width="0.9" fill="none"/>
<path d="M396.80 221.00V228.00M394.85 221.00H398.75M394.85 228.00H398.75" stroke="#7272f6" stroke-width="0.9" fill="none"/>
<path d="M415.20 215.00V228.00M413.25 215.00H417.15M413.25 228.00H417.15" stroke="#7272f6" stroke-width="0.9" fill="none"/>
<path d="M433.30 222.30V229.00M431.35 222.30H435.25M431.35 229.00H435.25" stroke="#7272f6" stroke-width="0.9" fill="none"/>
<path d="M451.80 243.00V250.00M449.85 243.00H453.75M449.85 250.00H453.75" stroke="#7272f6" stroke-width="0.9" fill="none"/>
<circle cx="323.80" cy="214.30" r="2.40" fill="#0a0af5"/>
<circle cx="342.30" cy="219.70" r="2.40" fill="#0a0af5"/>
<circle cx="360.50" cy="224.80" r="2.40" fill="#0a0af5"/>
<circle cx="378.80" cy="223.10" r="2.40" fill="#0a0af5"/>
<circle cx="396.80" cy="224.80" r="2.40" fill="#0a0af5"/>
<circle cx="415.20" cy="221.50" r="2.40" fill="#0a0af5"/>
<circle cx="433.30" cy="225.80" r="2.40" fill="#0a0af5"/>
<circle cx="451.80" cy="246.90" r="2.40" fill="#0a0af5"/>
<path d="M465.70 193.90H476.70" stroke="#7272f6" stroke-width="0.9"/>
<circle cx="471.20" cy="193.90" r="2.10" fill="#0a0af5"/>
<text transform="translate(482.90 197.35) scale(0.975 1)" class="lg">8D302-MMAE</text>
<path d="M465.70 207.27H476.70" stroke="#f57070" stroke-width="0.9"/>
<rect x="469.10" y="205.17" width="4.20" height="4.20" fill="#f50a0a"/>
<text transform="translate(482.90 210.72) scale(0.975 1)" class="lg">8D302-DXd</text>
<path d="M465.70 220.64H476.70" stroke="#66cf66" stroke-width="0.9"/>
<polygon points="471.20,218.23 473.51,222.57 468.89,222.57" fill="#0ab80a"/>
<text transform="translate(482.90 224.09) scale(0.975 1)" class="lg">Isotype-MMAE</text>
<path d="M465.70 234.01H476.70" stroke="#c078f0" stroke-width="0.9"/>
<polygon points="471.20,236.42 473.51,232.08 468.89,232.08" fill="#9a10e8"/>
<text transform="translate(482.90 237.46) scale(0.975 1)" class="lg">Isotype-DXd</text>
<text x="4.30" y="337.80" text-anchor="start" class="ti" style="font-size:14px">B</text>
<text x="128.15" y="336.10" text-anchor="middle" class="ti" style="font-size:12.75px">Bystander killing</text>
<text x="132.05" y="350.90" text-anchor="middle" class="ti" style="font-size:12.7px">(8D3-MMAE)</text>
<path d="M59.10 351.20V453.70" stroke="#383838" stroke-width="1.7" fill="none"/>
<path d="M58.40 453.10H209.60" stroke="#2a2a2a" stroke-width="1.35" fill="none"/>
<path d="M55.10 453.10H59.10" stroke="#151515" stroke-width="1.25"/>
<text transform="translate(53.80 455.60) scale(0.93 1)" text-anchor="end" class="tk" style="font-size:8.0px">0</text>
<path d="M55.10 432.82H59.10" stroke="#151515" stroke-width="1.25"/>
<text transform="translate(53.80 435.32) scale(0.93 1)" text-anchor="end" class="tk" style="font-size:8.0px">30</text>
<path d="M55.10 412.54H59.10" stroke="#151515" stroke-width="1.25"/>
<text transform="translate(53.80 415.04) scale(0.93 1)" text-anchor="end" class="tk" style="font-size:8.0px">60</text>
<path d="M55.10 392.26H59.10" stroke="#151515" stroke-width="1.25"/>
<text transform="translate(53.80 394.76) scale(0.93 1)" text-anchor="end" class="tk" style="font-size:8.0px">90</text>
<path d="M55.10 371.98H59.10" stroke="#151515" stroke-width="1.25"/>
<text transform="translate(53.80 374.48) scale(0.93 1)" text-anchor="end" class="tk" style="font-size:8.0px">120</text>
<path d="M55.10 351.70H59.10" stroke="#151515" stroke-width="1.25"/>
<text transform="translate(53.80 354.20) scale(0.93 1)" text-anchor="end" class="tk" style="font-size:8.0px">150</text>
<path d="M59.10 453.10V457.10" stroke="#2a2a2a" stroke-width="1.2"/>
<text transform="translate(59.10 465.40) scale(0.93 1)" text-anchor="middle" class="tk" style="font-size:8.0px">0.01</text>
<path d="M68.13 453.10V455.30" stroke="#2a2a2a" stroke-width="0.9"/>
<path d="M73.41 453.10V455.30" stroke="#2a2a2a" stroke-width="0.9"/>
<path d="M77.16 453.10V455.30" stroke="#2a2a2a" stroke-width="0.9"/>
<path d="M80.07 453.10V455.30" stroke="#2a2a2a" stroke-width="0.9"/>
<path d="M82.44 453.10V455.30" stroke="#2a2a2a" stroke-width="0.9"/>
<path d="M84.45 453.10V455.30" stroke="#2a2a2a" stroke-width="0.9"/>
<path d="M86.19 453.10V455.30" stroke="#2a2a2a" stroke-width="0.9"/>
<path d="M87.73 453.10V455.30" stroke="#2a2a2a" stroke-width="0.9"/>
<path d="M89.10 453.10V457.10" stroke="#2a2a2a" stroke-width="1.2"/>
<text transform="translate(89.10 465.40) scale(0.93 1)" text-anchor="middle" class="tk" style="font-size:8.0px">0.1</text>
<path d="M98.13 453.10V455.30" stroke="#2a2a2a" stroke-width="0.9"/>
<path d="M103.41 453.10V455.30" stroke="#2a2a2a" stroke-width="0.9"/>
<path d="M107.16 453.10V455.30" stroke="#2a2a2a" stroke-width="0.9"/>
<path d="M110.07 453.10V455.30" stroke="#2a2a2a" stroke-width="0.9"/>
<path d="M112.44 453.10V455.30" stroke="#2a2a2a" stroke-width="0.9"/>
<path d="M114.45 453.10V455.30" stroke="#2a2a2a" stroke-width="0.9"/>
<path d="M116.19 453.10V455.30" stroke="#2a2a2a" stroke-width="0.9"/>
<path d="M117.73 453.10V455.30" stroke="#2a2a2a" stroke-width="0.9"/>
<path d="M119.10 453.10V457.10" stroke="#2a2a2a" stroke-width="1.2"/>
<text transform="translate(119.10 465.40) scale(0.93 1)" text-anchor="middle" class="tk" style="font-size:8.0px">1</text>
<path d="M128.13 453.10V455.30" stroke="#2a2a2a" stroke-width="0.9"/>
<path d="M133.41 453.10V455.30" stroke="#2a2a2a" stroke-width="0.9"/>
<path d="M137.16 453.10V455.30" stroke="#2a2a2a" stroke-width="0.9"/>
<path d="M140.07 453.10V455.30" stroke="#2a2a2a" stroke-width="0.9"/>
<path d="M142.44 453.10V455.30" stroke="#2a2a2a" stroke-width="0.9"/>
<path d="M144.45 453.10V455.30" stroke="#2a2a2a" stroke-width="0.9"/>
<path d="M146.19 453.10V455.30" stroke="#2a2a2a" stroke-width="0.9"/>
<path d="M147.73 453.10V455.30" stroke="#2a2a2a" stroke-width="0.9"/>
<path d="M149.10 453.10V457.10" stroke="#2a2a2a" stroke-width="1.2"/>
<text transform="translate(149.10 465.40) scale(0.93 1)" text-anchor="middle" class="tk" style="font-size:8.0px">10</text>
<path d="M158.13 453.10V455.30" stroke="#2a2a2a" stroke-width="0.9"/>
<path d="M163.41 453.10V455.30" stroke="#2a2a2a" stroke-width="0.9"/>
<path d="M167.16 453.10V455.30" stroke="#2a2a2a" stroke-width="0.9"/>
<path d="M170.07 453.10V455.30" stroke="#2a2a2a" stroke-width="0.9"/>
<path d="M172.44 453.10V455.30" stroke="#2a2a2a" stroke-width="0.9"/>
<path d="M174.45 453.10V455.30" stroke="#2a2a2a" stroke-width="0.9"/>
<path d="M176.19 453.10V455.30" stroke="#2a2a2a" stroke-width="0.9"/>
<path d="M177.73 453.10V455.30" stroke="#2a2a2a" stroke-width="0.9"/>
<path d="M179.10 453.10V457.10" stroke="#2a2a2a" stroke-width="1.2"/>
<text transform="translate(179.10 465.40) scale(0.93 1)" text-anchor="middle" class="tk" style="font-size:8.0px">100</text>
<path d="M188.13 453.10V455.30" stroke="#2a2a2a" stroke-width="0.9"/>
<path d="M193.41 453.10V455.30" stroke="#2a2a2a" stroke-width="0.9"/>
<path d="M197.16 453.10V455.30" stroke="#2a2a2a" stroke-width="0.9"/>
<path d="M200.07 453.10V455.30" stroke="#2a2a2a" stroke-width="0.9"/>
<path d="M202.44 453.10V455.30" stroke="#2a2a2a" stroke-width="0.9"/>
<path d="M204.45 453.10V455.30" stroke="#2a2a2a" stroke-width="0.9"/>
<path d="M206.19 453.10V455.30" stroke="#2a2a2a" stroke-width="0.9"/>
<path d="M207.73 453.10V455.30" stroke="#2a2a2a" stroke-width="0.9"/>
<path d="M209.10 453.10V457.10" stroke="#2a2a2a" stroke-width="1.2"/>
<text transform="translate(209.10 465.40) scale(0.93 1)" text-anchor="middle" class="tk" style="font-size:8.0px">1000</text>
<text x="97.85" y="478.10" textLength="73.45" lengthAdjust="spacingAndGlyphs" class="al" style="font-size:8.2px">Concentration(nM)</text>
<g transform="translate(38.00 432.40) scale(1.07 1) rotate(-90)"><text x="-0.35" y="0" textLength="61.35" lengthAdjust="spacingAndGlyphs" class="al" style="font-size:8.3px">Cell viability(%)</text></g>
<path d="M79.10 384.80 L80.37 384.80 L81.64 384.80 L82.91 384.80 L84.18 384.80 L85.45 384.80 L86.73 384.80 L88.00 384.80 L89.27 384.80 L90.54 384.80 L91.81 384.80 L93.08 384.80 L94.35 384.80 L95.62 384.80 L96.89 384.80 L98.16 384.80 L99.43 384.80 L100.71 384.80 L101.98 384.80 L103.25 384.80 L104.52 384.80 L105.79 384.84 L107.06 385.20 L108.33 386.78 L109.60 387.68 L110.87 387.79 L112.14 387.80 L113.41 387.80 L114.68 387.80 L115.96 387.80 L117.23 387.80 L118.50 387.80 L119.77 387.80 L121.04 387.80 L122.31 387.80 L123.58 387.80 L124.85 387.80 L126.12 387.80 L127.39 387.80 L128.66 387.80 L129.94 387.80 L131.21 387.80 L132.48 387.80 L133.75 387.80 L135.02 387.80 L136.29 387.80 L137.56 387.80 L138.83 387.80 L140.10 387.80 L141.37 387.80 L142.64 387.80 L143.92 387.80 L145.19 387.80 L146.46 387.80 L147.73 387.80 L149.00 387.80 L150.27 387.80 L151.54 387.80 L152.81 387.80 L154.08 387.80 L155.35 387.80 L156.62 387.80 L157.89 387.80 L159.17 387.80 L160.44 387.80 L161.71 387.80 L162.98 387.80 L164.25 387.80 L165.52 387.80 L166.79 387.80 L168.06 387.80 L169.33 387.80 L170.60 387.80 L171.87 387.80 L173.15 387.80 L174.42 387.80 L175.69 387.80 L176.96 387.80 L178.23 387.80 L179.50 387.80" stroke="#66cf66" stroke-width="1.2" fill="none"/>
<path d="M150.90 385.50V390.00M148.95 385.50H152.85M148.95 390.00H152.85" stroke="#66cf66" stroke-width="0.9" fill="none"/>
<path d="M165.10 385.00V392.00M163.15 385.00H167.05M163.15 392.00H167.05" stroke="#66cf66" stroke-width="0.9" fill="none"/>
<path d="M179.50 384.00V390.00M177.55 384.00H181.45M177.55 390.00H181.45" stroke="#66cf66" stroke-width="0.9" fill="none"/>
<polygon points="79.10,383.44 81.74,388.41 76.46,388.41" fill="#0ab80a"/>
<polygon points="93.50,382.04 96.14,387.01 90.86,387.01" fill="#0ab80a"/>
<polygon points="107.70,383.74 110.34,388.71 105.06,388.71" fill="#0ab80a"/>
<polygon points="122.00,386.74 124.64,391.71 119.36,391.71" fill="#0ab80a"/>
<polygon points="136.50,385.04 139.14,390.01 133.86,390.01" fill="#0ab80a"/>
<polygon points="150.90,385.34 153.54,390.31 148.26,390.31" fill="#0ab80a"/>
<polygon points="165.10,385.84 167.74,390.81 162.46,390.81" fill="#0ab80a"/>
<polygon points="179.50,383.74 182.14,388.71 176.86,388.71" fill="#0ab80a"/>
<path d="M79.10 380.45 L80.37 380.45 L81.64 380.46 L82.91 380.46 L84.18 380.46 L85.45 380.46 L86.73 380.46 L88.00 380.46 L89.27 380.46 L90.54 380.46 L91.81 380.46 L93.08 380.46 L94.35 380.46 L95.62 380.47 L96.89 380.47 L98.16 380.47 L99.43 380.47 L100.71 380.48 L101.98 380.48 L103.25 380.49 L104.52 380.49 L105.79 380.50 L107.06 380.51 L108.33 380.52 L109.60 380.53 L110.87 380.54 L112.14 380.55 L113.41 380.57 L114.68 380.59 L115.96 380.61 L117.23 380.64 L118.50 380.67 L119.77 380.71 L121.04 380.75 L122.31 380.81 L123.58 380.87 L124.85 380.94 L126.12 381.02 L127.39 381.11 L128.66 381.22 L129.94 381.35 L131.21 381.50 L132.48 381.67 L133.75 381.87 L135.02 382.10 L136.29 382.37 L137.56 382.68 L138.83 383.03 L140.10 383.44 L141.37 383.90 L142.64 384.43 L143.92 385.02 L145.19 385.69 L146.46 386.45 L147.73 387.28 L149.00 388.21 L150.27 389.22 L151.54 390.33 L152.81 391.52 L154.08 392.78 L155.35 394.12 L156.62 395.52 L157.89 396.96 L159.17 398.43 L160.44 399.91 L161.71 401.38 L162.98 402.82 L164.25 404.22 L165.52 405.56 L166.79 406.83 L168.06 408.03 L169.33 409.13 L170.60 410.15 L171.87 411.08 L173.15 411.93 L174.42 412.68 L175.69 413.36 L176.96 413.96 L178.23 414.49 L179.50 414.95" stroke="#f57070" stroke-width="1.15" fill="none"/>
<path d="M79.10 372.90V381.00M77.15 372.90H81.05M77.15 381.00H81.05" stroke="#f57070" stroke-width="0.9" fill="none"/>
<path d="M150.90 386.00V395.00M148.95 386.00H152.85M148.95 395.00H152.85" stroke="#f57070" stroke-width="0.9" fill="none"/>
<rect x="76.70" y="374.70" width="4.80" height="4.80" fill="#f50a0a"/>
<rect x="91.10" y="378.30" width="4.80" height="4.80" fill="#f50a0a"/>
<rect x="105.30" y="379.60" width="4.80" height="4.80" fill="#f50a0a"/>
<rect x="119.60" y="380.80" width="4.80" height="4.80" fill="#f50a0a"/>
<rect x="134.10" y="378.70" width="4.80" height="4.80" fill="#f50a0a"/>
<rect x="148.50" y="388.20" width="4.80" height="4.80" fill="#f50a0a"/>
<rect x="162.70" y="403.60" width="4.80" height="4.80" fill="#f50a0a"/>
<rect x="177.10" y="411.90" width="4.80" height="4.80" fill="#f50a0a"/>
<path d="M79.10 395.65 L80.37 396.28 L81.64 396.96 L82.91 397.71 L84.18 398.52 L85.45 399.40 L86.73 400.34 L88.00 401.35 L89.27 402.41 L90.54 403.54 L91.81 404.71 L93.08 405.93 L94.35 407.19 L95.62 408.48 L96.89 409.79 L98.16 411.11 L99.43 412.43 L100.71 413.73 L101.98 415.02 L103.25 416.26 L104.52 417.47 L105.79 418.64 L107.06 419.74 L108.33 420.79 L109.60 421.78 L110.87 422.70 L112.14 423.56 L113.41 424.35 L114.68 425.08 L115.96 425.75 L117.23 426.36 L118.50 426.91 L119.77 427.41 L121.04 427.87 L122.31 428.28 L123.58 428.64 L124.85 428.97 L126.12 429.27 L127.39 429.53 L128.66 429.76 L129.94 429.97 L131.21 430.15 L132.48 430.32 L133.75 430.46 L135.02 430.59 L136.29 430.71 L137.56 430.81 L138.83 430.90 L140.10 430.98 L141.37 431.05 L142.64 431.11 L143.92 431.16 L145.19 431.21 L146.46 431.25 L147.73 431.29 L149.00 431.32 L150.27 431.35 L151.54 431.38 L152.81 431.40 L154.08 431.42 L155.35 431.44 L156.62 431.45 L157.89 431.47 L159.17 431.48 L160.44 431.49 L161.71 431.50 L162.98 431.51 L164.25 431.51 L165.52 431.52 L166.79 431.52 L168.06 431.53 L169.33 431.53 L170.60 431.54 L171.87 431.54 L173.15 431.54 L174.42 431.55 L175.69 431.55 L176.96 431.55 L178.23 431.55 L179.50 431.55" stroke="#7272f6" stroke-width="1.15" fill="none"/>
<path d="M79.10 391.00V399.50M77.15 391.00H81.05M77.15 399.50H81.05" stroke="#7272f6" stroke-width="0.9" fill="none"/>
<path d="M93.50 402.00V411.00M91.55 402.00H95.45M91.55 411.00H95.45" stroke="#7272f6" stroke-width="0.9" fill="none"/>
<path d="M107.70 413.50V428.00M105.75 413.50H109.65M105.75 428.00H109.65" stroke="#7272f6" stroke-width="0.9" fill="none"/>
<circle cx="79.10" cy="395.60" r="2.40" fill="#0a0af5"/>
<circle cx="93.50" cy="406.90" r="2.40" fill="#0a0af5"/>
<circle cx="107.70" cy="420.80" r="2.40" fill="#0a0af5"/>
<circle cx="122.00" cy="428.50" r="2.40" fill="#0a0af5"/>
<circle cx="136.50" cy="430.80" r="2.40" fill="#0a0af5"/>
<circle cx="150.90" cy="431.20" r="2.40" fill="#0a0af5"/>
<circle cx="165.10" cy="431.70" r="2.40" fill="#0a0af5"/>
<circle cx="179.50" cy="431.50" r="2.40" fill="#0a0af5"/>
<path d="M194.80 356.80H205.80" stroke="#7272f6" stroke-width="0.9"/>
<circle cx="200.30" cy="356.80" r="2.10" fill="#0a0af5"/>
<text transform="translate(212.00 360.25) scale(0.975 1)" class="lg">8D302-MMAE</text>
<path d="M194.80 370.40H205.80" stroke="#f57070" stroke-width="0.9"/>
<rect x="198.20" y="368.30" width="4.20" height="4.20" fill="#f50a0a"/>
<text transform="translate(212.00 373.85) scale(0.975 1)" class="lg">Isotype-MMAE</text>
<path d="M194.80 384.00H205.80" stroke="#66cf66" stroke-width="0.9"/>
<polygon points="200.30,381.58 202.61,385.93 197.99,385.93" fill="#0ab80a"/>
<text transform="translate(212.00 387.45) scale(0.975 1)" class="lg">Isotype</text>
<text x="285.50" y="339.50" text-anchor="start" class="ti" style="font-size:14px">C</text>
<text x="399.35" y="336.10" text-anchor="middle" class="ti" style="font-size:12.75px">Bystander killing</text>
<text x="395.00" y="350.90" text-anchor="middle" class="ti" style="font-size:12.7px">(8D3-DXd)</text>
<path d="M326.10 351.20V453.70" stroke="#383838" stroke-width="1.7" fill="none"/>
<path d="M325.40 453.10H477.60" stroke="#2a2a2a" stroke-width="1.35" fill="none"/>
<path d="M322.10 453.10H326.10" stroke="#151515" stroke-width="1.25"/>
<text transform="translate(320.80 455.60) scale(0.93 1)" text-anchor="end" class="tk" style="font-size:8.0px">0</text>
<path d="M322.10 432.82H326.10" stroke="#151515" stroke-width="1.25"/>
<text transform="translate(320.80 435.32) scale(0.93 1)" text-anchor="end" class="tk" style="font-size:8.0px">30</text>
<path d="M322.10 412.54H326.10" stroke="#151515" stroke-width="1.25"/>
<text transform="translate(320.80 415.04) scale(0.93 1)" text-anchor="end" class="tk" style="font-size:8.0px">60</text>
<path d="M322.10 392.26H326.10" stroke="#151515" stroke-width="1.25"/>
<text transform="translate(320.80 394.76) scale(0.93 1)" text-anchor="end" class="tk" style="font-size:8.0px">90</text>
<path d="M322.10 371.98H326.10" stroke="#151515" stroke-width="1.25"/>
<text transform="translate(320.80 374.48) scale(0.93 1)" text-anchor="end" class="tk" style="font-size:8.0px">120</text>
<path d="M322.10 351.70H326.10" stroke="#151515" stroke-width="1.25"/>
<text transform="translate(320.80 354.20) scale(0.93 1)" text-anchor="end" class="tk" style="font-size:8.0px">150</text>
<path d="M326.10 453.10V457.10" stroke="#2a2a2a" stroke-width="1.2"/>
<text transform="translate(326.10 465.40) scale(0.93 1)" text-anchor="middle" class="tk" style="font-size:8.0px">0.01</text>
<path d="M335.19 453.10V455.30" stroke="#2a2a2a" stroke-width="0.9"/>
<path d="M340.51 453.10V455.30" stroke="#2a2a2a" stroke-width="0.9"/>
<path d="M344.28 453.10V455.30" stroke="#2a2a2a" stroke-width="0.9"/>
<path d="M347.21 453.10V455.30" stroke="#2a2a2a" stroke-width="0.9"/>
<path d="M349.60 453.10V455.30" stroke="#2a2a2a" stroke-width="0.9"/>
<path d="M351.62 453.10V455.30" stroke="#2a2a2a" stroke-width="0.9"/>
<path d="M353.37 453.10V455.30" stroke="#2a2a2a" stroke-width="0.9"/>
<path d="M354.92 453.10V455.30" stroke="#2a2a2a" stroke-width="0.9"/>
<path d="M356.30 453.10V457.10" stroke="#2a2a2a" stroke-width="1.2"/>
<text transform="translate(356.30 465.40) scale(0.93 1)" text-anchor="middle" class="tk" style="font-size:8.0px">0.1</text>
<path d="M365.39 453.10V455.30" stroke="#2a2a2a" stroke-width="0.9"/>
<path d="M370.71 453.10V455.30" stroke="#2a2a2a" stroke-width="0.9"/>
<path d="M374.48 453.10V455.30" stroke="#2a2a2a" stroke-width="0.9"/>
<path d="M377.41 453.10V455.30" stroke="#2a2a2a" stroke-width="0.9"/>
<path d="M379.80 453.10V455.30" stroke="#2a2a2a" stroke-width="0.9"/>
<path d="M381.82 453.10V455.30" stroke="#2a2a2a" stroke-width="0.9"/>
<path d="M383.57 453.10V455.30" stroke="#2a2a2a" stroke-width="0.9"/>
<path d="M385.12 453.10V455.30" stroke="#2a2a2a" stroke-width="0.9"/>
<path d="M386.50 453.10V457.10" stroke="#2a2a2a" stroke-width="1.2"/>
<text transform="translate(386.50 465.40) scale(0.93 1)" text-anchor="middle" class="tk" style="font-size:8.0px">1</text>
<path d="M395.59 453.10V455.30" stroke="#2a2a2a" stroke-width="0.9"/>
<path d="M400.91 453.10V455.30" stroke="#2a2a2a" stroke-width="0.9"/>
<path d="M404.68 453.10V455.30" stroke="#2a2a2a" stroke-width="0.9"/>
<path d="M407.61 453.10V455.30" stroke="#2a2a2a" stroke-width="0.9"/>
<path d="M410.00 453.10V455.30" stroke="#2a2a2a" stroke-width="0.9"/>
<path d="M412.02 453.10V455.30" stroke="#2a2a2a" stroke-width="0.9"/>
<path d="M413.77 453.10V455.30" stroke="#2a2a2a" stroke-width="0.9"/>
<path d="M415.32 453.10V455.30" stroke="#2a2a2a" stroke-width="0.9"/>
<path d="M416.70 453.10V457.10" stroke="#2a2a2a" stroke-width="1.2"/>
<text transform="translate(416.70 465.40) scale(0.93 1)" text-anchor="middle" class="tk" style="font-size:8.0px">10</text>
<path d="M425.79 453.10V455.30" stroke="#2a2a2a" stroke-width="0.9"/>
<path d="M431.11 453.10V455.30" stroke="#2a2a2a" stroke-width="0.9"/>
<path d="M434.88 453.10V455.30" stroke="#2a2a2a" stroke-width="0.9"/>
<path d="M437.81 453.10V455.30" stroke="#2a2a2a" stroke-width="0.9"/>
<path d="M440.20 453.10V455.30" stroke="#2a2a2a" stroke-width="0.9"/>
<path d="M442.22 453.10V455.30" stroke="#2a2a2a" stroke-width="0.9"/>
<path d="M443.97 453.10V455.30" stroke="#2a2a2a" stroke-width="0.9"/>
<path d="M445.52 453.10V455.30" stroke="#2a2a2a" stroke-width="0.9"/>
<path d="M446.90 453.10V457.10" stroke="#2a2a2a" stroke-width="1.2"/>
<text transform="translate(446.90 465.40) scale(0.93 1)" text-anchor="middle" class="tk" style="font-size:8.0px">100</text>
<path d="M455.99 453.10V455.30" stroke="#2a2a2a" stroke-width="0.9"/>
<path d="M461.31 453.10V455.30" stroke="#2a2a2a" stroke-width="0.9"/>
<path d="M465.08 453.10V455.30" stroke="#2a2a2a" stroke-width="0.9"/>
<path d="M468.01 453.10V455.30" stroke="#2a2a2a" stroke-width="0.9"/>
<path d="M470.40 453.10V455.30" stroke="#2a2a2a" stroke-width="0.9"/>
<path d="M472.42 453.10V455.30" stroke="#2a2a2a" stroke-width="0.9"/>
<path d="M474.17 453.10V455.30" stroke="#2a2a2a" stroke-width="0.9"/>
<path d="M475.72 453.10V455.30" stroke="#2a2a2a" stroke-width="0.9"/>
<path d="M477.10 453.10V457.10" stroke="#2a2a2a" stroke-width="1.2"/>
<text transform="translate(477.10 465.40) scale(0.93 1)" text-anchor="middle" class="tk" style="font-size:8.0px">1000</text>
<text x="364.85" y="478.10" textLength="73.25" lengthAdjust="spacingAndGlyphs" class="al" style="font-size:8.2px">Concentration(nM)</text>
<g transform="translate(304.70 432.80) scale(1.07 1) rotate(-90)"><text x="-0.35" y="0" textLength="61.35" lengthAdjust="spacingAndGlyphs" class="al" style="font-size:8.3px">Cell viability(%)</text></g>
<path d="M345.90 387.78 L347.18 387.80 L348.46 387.82 L349.74 387.84 L351.02 387.86 L352.30 387.88 L353.58 387.90 L354.86 387.93 L356.14 387.95 L357.42 387.98 L358.70 388.01 L359.98 388.04 L361.26 388.07 L362.54 388.10 L363.82 388.13 L365.10 388.17 L366.38 388.21 L367.66 388.25 L368.94 388.29 L370.22 388.33 L371.49 388.37 L372.77 388.42 L374.05 388.47 L375.33 388.52 L376.61 388.57 L377.89 388.62 L379.17 388.67 L380.45 388.73 L381.73 388.79 L383.01 388.85 L384.29 388.91 L385.57 388.97 L386.85 389.04 L388.13 389.10 L389.41 389.17 L390.69 389.24 L391.97 389.30 L393.25 389.37 L394.53 389.44 L395.81 389.52 L397.09 389.59 L398.37 389.66 L399.65 389.73 L400.93 389.80 L402.21 389.87 L403.49 389.95 L404.77 390.02 L406.05 390.09 L407.33 390.16 L408.61 390.23 L409.89 390.30 L411.17 390.36 L412.45 390.43 L413.73 390.49 L415.01 390.56 L416.29 390.62 L417.57 390.68 L418.85 390.74 L420.13 390.80 L421.41 390.85 L422.68 390.90 L423.96 390.96 L425.24 391.01 L426.52 391.06 L427.80 391.10 L429.08 391.15 L430.36 391.19 L431.64 391.23 L432.92 391.27 L434.20 391.31 L435.48 391.35 L436.76 391.38 L438.04 391.42 L439.32 391.45 L440.60 391.48 L441.88 391.51 L443.16 391.53 L444.44 391.56 L445.72 391.58 L447.00 391.61" stroke="#66cf66" stroke-width="1.15" fill="none"/>
<path d="M374.70 383.40V391.00M372.75 383.40H376.65M372.75 391.00H376.65" stroke="#66cf66" stroke-width="0.9" fill="none"/>
<path d="M447.00 383.00V396.00M445.05 383.00H448.95M445.05 396.00H448.95" stroke="#66cf66" stroke-width="0.9" fill="none"/>
<polygon points="345.90,385.24 348.54,390.21 343.26,390.21" fill="#0ab80a"/>
<polygon points="360.50,386.14 363.14,391.11 357.86,391.11" fill="#0ab80a"/>
<polygon points="374.70,384.74 377.34,389.71 372.06,389.71" fill="#0ab80a"/>
<polygon points="389.10,388.04 391.74,393.01 386.46,393.01" fill="#0ab80a"/>
<polygon points="403.80,387.24 406.44,392.21 401.16,392.21" fill="#0ab80a"/>
<polygon points="418.10,387.24 420.74,392.21 415.46,392.21" fill="#0ab80a"/>
<polygon points="432.50,387.64 435.14,392.61 429.86,392.61" fill="#0ab80a"/>
<polygon points="447.00,387.64 449.64,392.61 444.36,392.61" fill="#0ab80a"/>
<path d="M345.90 386.37 L347.18 386.37 L348.46 386.37 L349.74 386.37 L351.02 386.37 L352.30 386.37 L353.58 386.37 L354.86 386.38 L356.14 386.38 L357.42 386.38 L358.70 386.38 L359.98 386.39 L361.26 386.39 L362.54 386.39 L363.82 386.40 L365.10 386.40 L366.38 386.41 L367.66 386.41 L368.94 386.42 L370.22 386.43 L371.49 386.43 L372.77 386.44 L374.05 386.45 L375.33 386.46 L376.61 386.47 L377.89 386.48 L379.17 386.49 L380.45 386.51 L381.73 386.52 L383.01 386.54 L384.29 386.56 L385.57 386.58 L386.85 386.60 L388.13 386.62 L389.41 386.65 L390.69 386.68 L391.97 386.71 L393.25 386.75 L394.53 386.79 L395.81 386.83 L397.09 386.88 L398.37 386.94 L399.65 386.99 L400.93 387.06 L402.21 387.13 L403.49 387.21 L404.77 387.29 L406.05 387.39 L407.33 387.49 L408.61 387.61 L409.89 387.73 L411.17 387.87 L412.45 388.02 L413.73 388.19 L415.01 388.37 L416.29 388.58 L417.57 388.80 L418.85 389.04 L420.13 389.31 L421.41 389.61 L422.68 389.94 L423.96 390.30 L425.24 390.70 L426.52 391.13 L427.80 391.61 L429.08 392.14 L430.36 392.72 L431.64 393.36 L432.92 394.06 L434.20 394.84 L435.48 395.69 L436.76 396.63 L438.04 397.66 L439.32 398.79 L440.60 400.04 L441.88 401.42 L443.16 402.93 L444.44 404.59 L445.72 406.42 L447.00 408.44" stroke="#f57070" stroke-width="1.15" fill="none"/>
<path d="M403.80 385.00V393.50M401.85 385.00H405.75M401.85 393.50H405.75" stroke="#f57070" stroke-width="0.9" fill="none"/>
<rect x="343.50" y="382.60" width="4.80" height="4.80" fill="#f50a0a"/>
<rect x="358.10" y="383.20" width="4.80" height="4.80" fill="#f50a0a"/>
<rect x="372.30" y="385.30" width="4.80" height="4.80" fill="#f50a0a"/>
<rect x="386.70" y="384.00" width="4.80" height="4.80" fill="#f50a0a"/>
<rect x="401.40" y="387.20" width="4.80" height="4.80" fill="#f50a0a"/>
<rect x="415.70" y="388.40" width="4.80" height="4.80" fill="#f50a0a"/>
<rect x="430.10" y="390.60" width="4.80" height="4.80" fill="#f50a0a"/>
<rect x="444.60" y="406.60" width="4.80" height="4.80" fill="#f50a0a"/>
<path d="M345.90 388.25 L347.18 388.58 L348.46 388.96 L349.74 389.38 L351.02 389.87 L352.30 390.41 L353.58 391.01 L354.86 391.69 L356.14 392.44 L357.42 393.26 L358.70 394.16 L359.98 395.14 L361.26 396.19 L362.54 397.32 L363.82 398.51 L365.10 399.76 L366.38 401.06 L367.66 402.40 L368.94 403.76 L370.22 405.14 L371.49 406.50 L372.77 407.85 L374.05 409.16 L375.33 410.43 L376.61 411.64 L377.89 412.79 L379.17 413.86 L380.45 414.86 L381.73 415.78 L383.01 416.63 L384.29 417.40 L385.57 418.09 L386.85 418.72 L388.13 419.28 L389.41 419.78 L390.69 420.22 L391.97 420.61 L393.25 420.96 L394.53 421.26 L395.81 421.53 L397.09 421.76 L398.37 421.96 L399.65 422.14 L400.93 422.29 L402.21 422.43 L403.49 422.55 L404.77 422.65 L406.05 422.74 L407.33 422.81 L408.61 422.88 L409.89 422.94 L411.17 422.99 L412.45 423.03 L413.73 423.07 L415.01 423.10 L416.29 423.13 L417.57 423.15 L418.85 423.17 L420.13 423.19 L421.41 423.20 L422.68 423.22 L423.96 423.23 L425.24 423.24 L426.52 423.25 L427.80 423.26 L429.08 423.26 L430.36 423.27 L431.64 423.27 L432.92 423.28 L434.20 423.28 L435.48 423.28 L436.76 423.29 L438.04 423.29 L439.32 423.29 L440.60 423.29 L441.88 423.29 L443.16 423.29 L444.44 423.30 L445.72 423.30 L447.00 423.30" stroke="#7272f6" stroke-width="1.15" fill="none"/>
<path d="M345.90 384.00V393.00M343.95 384.00H347.85M343.95 393.00H347.85" stroke="#7272f6" stroke-width="0.9" fill="none"/>
<circle cx="345.90" cy="388.90" r="2.40" fill="#0a0af5"/>
<circle cx="360.50" cy="395.00" r="2.40" fill="#0a0af5"/>
<circle cx="374.70" cy="411.20" r="2.40" fill="#0a0af5"/>
<circle cx="389.10" cy="419.00" r="2.40" fill="#0a0af5"/>
<circle cx="403.80" cy="421.90" r="2.40" fill="#0a0af5"/>
<circle cx="418.10" cy="423.80" r="2.40" fill="#0a0af5"/>
<circle cx="432.50" cy="423.80" r="2.40" fill="#0a0af5"/>
<circle cx="447.00" cy="423.80" r="2.40" fill="#0a0af5"/>
<path d="M458.60 354.50H469.60" stroke="#7272f6" stroke-width="0.9"/>
<circle cx="464.10" cy="354.50" r="2.10" fill="#0a0af5"/>
<text transform="translate(476.00 357.95) scale(0.975 1)" class="lg">8D302-DXd</text>
<path d="M458.60 368.15H469.60" stroke="#f57070" stroke-width="0.9"/>
<rect x="462.00" y="366.05" width="4.20" height="4.20" fill="#f50a0a"/>
<text transform="translate(476.00 371.60) scale(0.975 1)" class="lg">Isotype-DXd</text>
<path d="M458.60 381.80H469.60" stroke="#66cf66" stroke-width="0.9"/>
<polygon points="464.10,379.38 466.41,383.73 461.79,383.73" fill="#0ab80a"/>
<text transform="translate(476.00 385.25) scale(0.975 1)" class="lg">Isotype</text>
</svg></body></html>
